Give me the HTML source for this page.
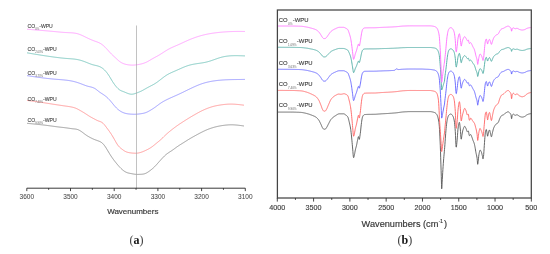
<!DOCTYPE html>
<html><head><meta charset="utf-8"><style>
html,body{margin:0;padding:0;background:#fff;}
body{width:550px;height:254px;overflow:hidden;}
svg{display:block;}
text{font-family:"Liberation Sans",Arial,sans-serif;fill:#333;}
.ta{font-size:6.5px;text-anchor:middle;fill:#4a4a4a;stroke:#4a4a4a;stroke-width:0.05px;}
.tb{font-size:7.2px;text-anchor:middle;fill:#3c3c3c;stroke:#3c3c3c;stroke-width:0.14px;}
.wa{font-size:8px;text-anchor:middle;fill:#3a3a3a;stroke:#3a3a3a;stroke-width:0.18px;}
.wb{font-size:9.2px;text-anchor:middle;fill:#333;stroke:#333;stroke-width:0.15px;}
.sup{font-size:4.6px;}
.cap{font-family:"Liberation Serif",serif;font-size:12px;text-anchor:middle;fill:#3c3c3c;}
.la{font-size:5.1px;fill:#444;stroke:#444;stroke-width:0.1px;}
.sa{font-size:2.8px;fill:#666;stroke:none;}
.lb{font-size:5.9px;fill:#3a3a3a;stroke:#3a3a3a;stroke-width:0.12px;}
.sb{font-size:3px;fill:#666;stroke:none;}
</style></head><body>
<svg width="550" height="254" viewBox="0 0 550 254">
<polyline points="27.00,123.30 27.50,123.35 28.00,123.40 28.50,123.45 29.00,123.50 29.50,123.55 30.00,123.60 30.50,123.64 31.00,123.69 31.50,123.74 32.00,123.79 32.50,123.84 33.00,123.89 33.50,123.94 34.00,123.99 34.50,124.04 35.00,124.09 35.50,124.14 36.00,124.19 36.50,124.24 37.00,124.30 37.50,124.35 38.00,124.40 38.50,124.45 39.00,124.51 39.50,124.56 40.00,124.61 40.50,124.67 41.00,124.72 41.50,124.78 42.00,124.83 42.50,124.89 43.00,124.95 43.50,125.01 44.00,125.06 44.50,125.12 45.00,125.18 45.50,125.24 46.00,125.31 46.50,125.37 47.00,125.43 47.50,125.50 48.00,125.56 48.50,125.63 49.00,125.69 49.50,125.76 50.00,125.83 50.50,125.90 51.00,125.97 51.50,126.03 52.00,126.10 52.50,126.17 53.00,126.24 53.50,126.31 54.00,126.38 54.50,126.45 55.00,126.51 55.50,126.58 56.00,126.65 56.50,126.71 57.00,126.78 57.50,126.84 58.00,126.90 58.50,126.96 59.00,127.02 59.50,127.08 60.00,127.13 60.50,127.19 61.00,127.25 61.50,127.30 62.00,127.36 62.50,127.42 63.00,127.47 63.50,127.53 64.00,127.59 64.50,127.65 65.00,127.71 65.50,127.77 66.00,127.84 66.50,127.90 67.00,127.97 67.50,128.04 68.00,128.12 68.50,128.19 69.00,128.27 69.50,128.34 70.00,128.41 70.50,128.49 71.00,128.56 71.50,128.62 72.00,128.69 72.50,128.75 73.00,128.80 73.50,128.85 74.00,128.89 74.50,128.94 75.00,129.00 75.50,129.06 76.00,129.14 76.50,129.24 77.00,129.35 77.50,129.50 78.00,129.67 78.50,129.88 79.00,130.12 79.50,130.38 80.00,130.66 80.50,130.97 81.00,131.30 81.50,131.64 82.00,132.00 82.50,132.37 83.00,132.75 83.50,133.13 84.00,133.52 84.50,133.90 85.00,134.28 85.50,134.64 86.00,135.00 86.50,135.34 87.00,135.67 87.50,135.98 88.00,136.28 88.50,136.57 89.00,136.86 89.50,137.13 90.00,137.40 90.50,137.66 91.00,137.92 91.50,138.18 92.00,138.43 92.50,138.67 93.00,138.90 93.50,139.12 94.00,139.34 94.50,139.54 95.00,139.73 95.50,139.92 96.00,140.10 96.50,140.28 97.00,140.46 97.50,140.63 98.00,140.81 98.50,141.00 99.00,141.19 99.50,141.40 100.00,141.63 100.50,141.89 101.00,142.18 101.50,142.51 102.00,142.88 102.50,143.31 103.00,143.80 103.50,144.35 104.00,144.95 104.50,145.61 105.00,146.30 105.50,147.04 106.00,147.81 106.50,148.61 107.00,149.44 107.50,150.28 108.00,151.12 108.50,151.96 109.00,152.80 109.50,153.62 110.00,154.43 110.50,155.22 111.00,155.99 111.50,156.74 112.00,157.48 112.50,158.20 113.00,158.90 113.50,159.58 114.00,160.25 114.50,160.91 115.00,161.55 115.50,162.18 116.00,162.80 116.50,163.41 117.00,164.02 117.50,164.61 118.00,165.20 118.50,165.77 119.00,166.33 119.50,166.88 120.00,167.41 120.50,167.93 121.00,168.43 121.50,168.91 122.00,169.38 122.50,169.82 123.00,170.23 123.50,170.62 124.00,170.99 124.50,171.33 125.00,171.64 125.50,171.92 126.00,172.17 126.50,172.40 127.00,172.60 127.50,172.77 128.00,172.92 128.50,173.05 129.00,173.17 129.50,173.27 130.00,173.37 130.50,173.46 131.00,173.56 131.50,173.65 132.00,173.75 132.50,173.85 133.00,173.94 133.50,174.03 134.00,174.11 134.50,174.19 135.00,174.26 135.50,174.32 136.00,174.36 136.50,174.40 137.00,174.41 137.50,174.42 138.00,174.41 138.50,174.40 139.00,174.38 139.50,174.35 140.00,174.33 140.50,174.30 141.00,174.27 141.50,174.25 142.00,174.21 142.50,174.17 143.00,174.11 143.50,174.03 144.00,173.93 144.50,173.79 145.00,173.63 145.50,173.43 146.00,173.21 146.50,172.95 147.00,172.67 147.50,172.37 148.00,172.05 148.50,171.71 149.00,171.36 149.50,171.00 150.00,170.63 150.50,170.26 151.00,169.88 151.50,169.48 152.00,169.07 152.50,168.65 153.00,168.22 153.50,167.76 154.00,167.29 154.50,166.80 155.00,166.29 155.50,165.77 156.00,165.23 156.50,164.68 157.00,164.13 157.50,163.56 158.00,163.00 158.50,162.43 159.00,161.87 159.50,161.31 160.00,160.75 160.50,160.19 161.00,159.63 161.50,159.08 162.00,158.53 162.50,157.99 163.00,157.46 163.50,156.95 164.00,156.44 164.50,155.95 165.00,155.48 165.50,155.03 166.00,154.60 166.50,154.19 167.00,153.81 167.50,153.44 168.00,153.09 168.50,152.75 169.00,152.42 169.50,152.09 170.00,151.77 170.50,151.45 171.00,151.13 171.50,150.80 172.00,150.46 172.50,150.12 173.00,149.77 173.50,149.41 174.00,149.04 174.50,148.68 175.00,148.31 175.50,147.94 176.00,147.57 176.50,147.21 177.00,146.85 177.50,146.50 178.00,146.16 178.50,145.82 179.00,145.49 179.50,145.16 180.00,144.84 180.50,144.53 181.00,144.21 181.50,143.90 182.00,143.59 182.50,143.28 183.00,142.97 183.50,142.66 184.00,142.35 184.50,142.03 185.00,141.72 185.50,141.40 186.00,141.08 186.50,140.76 187.00,140.45 187.50,140.13 188.00,139.82 188.50,139.51 189.00,139.20 189.50,138.90 190.00,138.60 190.50,138.31 191.00,138.01 191.50,137.73 192.00,137.44 192.50,137.16 193.00,136.88 193.50,136.60 194.00,136.32 194.50,136.05 195.00,135.77 195.50,135.50 196.00,135.23 196.50,134.95 197.00,134.68 197.50,134.41 198.00,134.14 198.50,133.87 199.00,133.60 199.50,133.34 200.00,133.08 200.50,132.81 201.00,132.56 201.50,132.30 202.00,132.05 202.50,131.80 203.00,131.55 203.50,131.31 204.00,131.07 204.50,130.83 205.00,130.60 205.50,130.37 206.00,130.15 206.50,129.94 207.00,129.72 207.50,129.52 208.00,129.32 208.50,129.12 209.00,128.93 209.50,128.75 210.00,128.57 210.50,128.40 211.00,128.23 211.50,128.07 212.00,127.91 212.50,127.75 213.00,127.60 213.50,127.45 214.00,127.31 214.50,127.17 215.00,127.04 215.50,126.91 216.00,126.79 216.50,126.66 217.00,126.55 217.50,126.43 218.00,126.33 218.50,126.22 219.00,126.12 219.50,126.02 220.00,125.93 220.50,125.84 221.00,125.76 221.50,125.67 222.00,125.60 222.50,125.52 223.00,125.45 223.50,125.38 224.00,125.32 224.50,125.26 225.00,125.20 225.50,125.14 226.00,125.09 226.50,125.04 227.00,125.00 227.50,124.96 228.00,124.92 228.50,124.89 229.00,124.86 229.50,124.84 230.00,124.82 230.50,124.81 231.00,124.80 231.50,124.80 232.00,124.80 232.50,124.81 233.00,124.83 233.50,124.85 234.00,124.87 234.50,124.90 235.00,124.93 235.50,124.97 236.00,125.01 236.50,125.05 237.00,125.10 237.50,125.15 238.00,125.20 238.50,125.26 239.00,125.32 239.50,125.38 240.00,125.44 240.50,125.51 241.00,125.58 241.50,125.64 242.00,125.71 242.50,125.78 243.00,125.86 243.50,125.93 244.00,126.00" fill="none" stroke="#9c9c9c" stroke-width="1.0" stroke-linejoin="round"/>
<polyline points="27.00,100.40 27.50,100.46 28.00,100.51 28.50,100.57 29.00,100.63 29.50,100.69 30.00,100.75 30.50,100.81 31.00,100.88 31.50,100.94 32.00,101.01 32.50,101.07 33.00,101.14 33.50,101.21 34.00,101.27 34.50,101.34 35.00,101.41 35.50,101.48 36.00,101.55 36.50,101.63 37.00,101.70 37.50,101.77 38.00,101.84 38.50,101.92 39.00,101.99 39.50,102.07 40.00,102.14 40.50,102.22 41.00,102.30 41.50,102.37 42.00,102.45 42.50,102.53 43.00,102.61 43.50,102.68 44.00,102.76 44.50,102.84 45.00,102.92 45.50,103.00 46.00,103.08 46.50,103.16 47.00,103.24 47.50,103.32 48.00,103.40 48.50,103.48 49.00,103.56 49.50,103.63 50.00,103.71 50.50,103.79 51.00,103.87 51.50,103.95 52.00,104.03 52.50,104.11 53.00,104.19 53.50,104.27 54.00,104.34 54.50,104.42 55.00,104.50 55.50,104.58 56.00,104.65 56.50,104.73 57.00,104.81 57.50,104.88 58.00,104.96 58.50,105.03 59.00,105.11 59.50,105.18 60.00,105.26 60.50,105.33 61.00,105.40 61.50,105.48 62.00,105.55 62.50,105.62 63.00,105.70 63.50,105.77 64.00,105.84 64.50,105.91 65.00,105.99 65.50,106.06 66.00,106.13 66.50,106.20 67.00,106.27 67.50,106.34 68.00,106.41 68.50,106.49 69.00,106.56 69.50,106.64 70.00,106.72 70.50,106.81 71.00,106.90 71.50,107.00 72.00,107.11 72.50,107.22 73.00,107.35 73.50,107.48 74.00,107.63 74.50,107.78 75.00,107.96 75.50,108.14 76.00,108.34 76.50,108.56 77.00,108.79 77.50,109.03 78.00,109.29 78.50,109.56 79.00,109.84 79.50,110.12 80.00,110.40 80.50,110.68 81.00,110.97 81.50,111.26 82.00,111.55 82.50,111.84 83.00,112.13 83.50,112.43 84.00,112.74 84.50,113.05 85.00,113.36 85.50,113.69 86.00,114.01 86.50,114.35 87.00,114.68 87.50,115.01 88.00,115.34 88.50,115.66 89.00,115.98 89.50,116.30 90.00,116.60 90.50,116.89 91.00,117.18 91.50,117.45 92.00,117.73 92.50,117.99 93.00,118.26 93.50,118.52 94.00,118.79 94.50,119.05 95.00,119.32 95.50,119.59 96.00,119.86 96.50,120.12 97.00,120.36 97.50,120.59 98.00,120.80 98.50,120.99 99.00,121.16 99.50,121.33 100.00,121.51 100.50,121.70 101.00,121.92 101.50,122.18 102.00,122.48 102.50,122.84 103.00,123.26 103.50,123.75 104.00,124.30 104.50,124.89 105.00,125.51 105.50,126.16 106.00,126.83 106.50,127.50 107.00,128.17 107.50,128.84 108.00,129.50 108.50,130.18 109.00,130.86 109.50,131.56 110.00,132.27 110.50,133.00 111.00,133.75 111.50,134.53 112.00,135.33 112.50,136.15 113.00,136.99 113.50,137.84 114.00,138.72 114.50,139.60 115.00,140.49 115.50,141.39 116.00,142.27 116.50,143.12 117.00,143.93 117.50,144.70 118.00,145.40 118.50,146.03 119.00,146.59 119.50,147.10 120.00,147.57 120.50,148.00 121.00,148.41 121.50,148.80 122.00,149.19 122.50,149.57 123.00,149.94 123.50,150.30 124.00,150.64 124.50,150.96 125.00,151.25 125.50,151.51 126.00,151.74 126.50,151.94 127.00,152.12 127.50,152.27 128.00,152.41 128.50,152.53 129.00,152.63 129.50,152.72 130.00,152.80 130.50,152.87 131.00,152.93 131.50,152.99 132.00,153.04 132.50,153.08 133.00,153.12 133.50,153.15 134.00,153.18 134.50,153.20 135.00,153.22 135.50,153.23 136.00,153.22 136.50,153.21 137.00,153.17 137.50,153.12 138.00,153.04 138.50,152.96 139.00,152.85 139.50,152.73 140.00,152.60 140.50,152.46 141.00,152.30 141.50,152.13 142.00,151.96 142.50,151.77 143.00,151.57 143.50,151.37 144.00,151.16 144.50,150.94 145.00,150.71 145.50,150.48 146.00,150.24 146.50,150.00 147.00,149.76 147.50,149.51 148.00,149.25 148.50,148.98 149.00,148.70 149.50,148.42 150.00,148.12 150.50,147.81 151.00,147.49 151.50,147.15 152.00,146.80 152.50,146.43 153.00,146.05 153.50,145.65 154.00,145.25 154.50,144.84 155.00,144.43 155.50,144.01 156.00,143.60 156.50,143.19 157.00,142.78 157.50,142.37 158.00,141.97 158.50,141.55 159.00,141.14 159.50,140.72 160.00,140.29 160.50,139.85 161.00,139.40 161.50,138.94 162.00,138.47 162.50,137.99 163.00,137.50 163.50,137.01 164.00,136.52 164.50,136.04 165.00,135.55 165.50,135.07 166.00,134.60 166.50,134.14 167.00,133.69 167.50,133.24 168.00,132.81 168.50,132.38 169.00,131.96 169.50,131.54 170.00,131.14 170.50,130.73 171.00,130.33 171.50,129.94 172.00,129.54 172.50,129.15 173.00,128.77 173.50,128.38 174.00,128.00 174.50,127.62 175.00,127.25 175.50,126.88 176.00,126.51 176.50,126.15 177.00,125.79 177.50,125.44 178.00,125.09 178.50,124.75 179.00,124.41 179.50,124.07 180.00,123.74 180.50,123.41 181.00,123.08 181.50,122.75 182.00,122.43 182.50,122.11 183.00,121.78 183.50,121.46 184.00,121.14 184.50,120.82 185.00,120.51 185.50,120.19 186.00,119.87 186.50,119.56 187.00,119.24 187.50,118.93 188.00,118.62 188.50,118.31 189.00,118.00 189.50,117.70 190.00,117.40 190.50,117.10 191.00,116.80 191.50,116.51 192.00,116.21 192.50,115.92 193.00,115.63 193.50,115.34 194.00,115.06 194.50,114.77 195.00,114.48 195.50,114.20 196.00,113.92 196.50,113.63 197.00,113.35 197.50,113.07 198.00,112.80 198.50,112.52 199.00,112.25 199.50,111.98 200.00,111.72 200.50,111.46 201.00,111.20 201.50,110.95 202.00,110.70 202.50,110.46 203.00,110.23 203.50,110.00 204.00,109.77 204.50,109.55 205.00,109.34 205.50,109.12 206.00,108.92 206.50,108.72 207.00,108.52 207.50,108.32 208.00,108.13 208.50,107.95 209.00,107.77 209.50,107.59 210.00,107.42 210.50,107.25 211.00,107.09 211.50,106.93 212.00,106.78 212.50,106.64 213.00,106.50 213.50,106.37 214.00,106.24 214.50,106.12 215.00,106.00 215.50,105.89 216.00,105.78 216.50,105.68 217.00,105.58 217.50,105.48 218.00,105.39 218.50,105.30 219.00,105.22 219.50,105.13 220.00,105.05 220.50,104.97 221.00,104.90 221.50,104.82 222.00,104.75 222.50,104.69 223.00,104.62 223.50,104.56 224.00,104.50 224.50,104.45 225.00,104.40 225.50,104.35 226.00,104.31 226.50,104.27 227.00,104.23 227.50,104.20 228.00,104.18 228.50,104.15 229.00,104.13 229.50,104.12 230.00,104.11 230.50,104.10 231.00,104.10 231.50,104.10 232.00,104.11 232.50,104.12 233.00,104.14 233.50,104.16 234.00,104.18 234.50,104.21 235.00,104.24 235.50,104.28 236.00,104.32 236.50,104.36 237.00,104.40 237.50,104.45 238.00,104.49 238.50,104.54 239.00,104.60 239.50,104.65 240.00,104.71 240.50,104.77 241.00,104.83 241.50,104.89 242.00,104.95 242.50,105.01 243.00,105.07 243.50,105.14 244.00,105.20" fill="none" stroke="#ff9c9c" stroke-width="1.0" stroke-linejoin="round"/>
<polyline points="27.00,75.60 27.50,75.68 28.00,75.76 28.50,75.84 29.00,75.92 29.50,75.99 30.00,76.07 30.50,76.15 31.00,76.23 31.50,76.30 32.00,76.38 32.50,76.46 33.00,76.53 33.50,76.61 34.00,76.68 34.50,76.75 35.00,76.83 35.50,76.90 36.00,76.97 36.50,77.04 37.00,77.12 37.50,77.19 38.00,77.26 38.50,77.33 39.00,77.40 39.50,77.46 40.00,77.53 40.50,77.60 41.00,77.67 41.50,77.73 42.00,77.80 42.50,77.86 43.00,77.92 43.50,77.99 44.00,78.05 44.50,78.11 45.00,78.17 45.50,78.23 46.00,78.29 46.50,78.35 47.00,78.41 47.50,78.46 48.00,78.52 48.50,78.57 49.00,78.63 49.50,78.68 50.00,78.73 50.50,78.78 51.00,78.83 51.50,78.88 52.00,78.93 52.50,78.98 53.00,79.03 53.50,79.07 54.00,79.11 54.50,79.16 55.00,79.20 55.50,79.24 56.00,79.28 56.50,79.32 57.00,79.36 57.50,79.40 58.00,79.44 58.50,79.47 59.00,79.51 59.50,79.55 60.00,79.59 60.50,79.63 61.00,79.67 61.50,79.71 62.00,79.75 62.50,79.80 63.00,79.84 63.50,79.89 64.00,79.94 64.50,79.99 65.00,80.04 65.50,80.10 66.00,80.15 66.50,80.21 67.00,80.27 67.50,80.34 68.00,80.41 68.50,80.48 69.00,80.55 69.50,80.63 70.00,80.72 70.50,80.80 71.00,80.89 71.50,80.99 72.00,81.09 72.50,81.20 73.00,81.31 73.50,81.42 74.00,81.54 74.50,81.67 75.00,81.80 75.50,81.94 76.00,82.08 76.50,82.23 77.00,82.39 77.50,82.55 78.00,82.71 78.50,82.88 79.00,83.05 79.50,83.23 80.00,83.41 80.50,83.60 81.00,83.79 81.50,83.98 82.00,84.17 82.50,84.37 83.00,84.56 83.50,84.76 84.00,84.95 84.50,85.14 85.00,85.33 85.50,85.51 86.00,85.68 86.50,85.85 87.00,86.01 87.50,86.16 88.00,86.30 88.50,86.43 89.00,86.55 89.50,86.66 90.00,86.78 90.50,86.89 91.00,87.02 91.50,87.15 92.00,87.29 92.50,87.45 93.00,87.63 93.50,87.83 94.00,88.05 94.50,88.31 95.00,88.60 95.50,88.92 96.00,89.28 96.50,89.66 97.00,90.05 97.50,90.45 98.00,90.86 98.50,91.26 99.00,91.65 99.50,92.02 100.00,92.38 100.50,92.72 101.00,93.05 101.50,93.37 102.00,93.69 102.50,94.01 103.00,94.33 103.50,94.66 104.00,95.00 104.50,95.35 105.00,95.72 105.50,96.11 106.00,96.51 106.50,96.92 107.00,97.36 107.50,97.82 108.00,98.30 108.50,98.80 109.00,99.32 109.50,99.86 110.00,100.42 110.50,101.00 111.00,101.59 111.50,102.19 112.00,102.80 112.50,103.41 113.00,104.03 113.50,104.64 114.00,105.25 114.50,105.85 115.00,106.42 115.50,106.98 116.00,107.52 116.50,108.03 117.00,108.51 117.50,108.97 118.00,109.40 118.50,109.81 119.00,110.20 119.50,110.57 120.00,110.91 120.50,111.23 121.00,111.53 121.50,111.81 122.00,112.07 122.50,112.31 123.00,112.53 123.50,112.73 124.00,112.92 124.50,113.08 125.00,113.23 125.50,113.37 126.00,113.49 126.50,113.60 127.00,113.70 127.50,113.79 128.00,113.86 128.50,113.93 129.00,113.98 129.50,114.03 130.00,114.08 130.50,114.11 131.00,114.14 131.50,114.17 132.00,114.19 132.50,114.21 133.00,114.23 133.50,114.24 134.00,114.25 134.50,114.25 135.00,114.25 135.50,114.24 136.00,114.23 136.50,114.21 137.00,114.17 137.50,114.14 138.00,114.09 138.50,114.04 139.00,113.98 139.50,113.92 140.00,113.85 140.50,113.78 141.00,113.70 141.50,113.62 142.00,113.54 142.50,113.45 143.00,113.35 143.50,113.25 144.00,113.13 144.50,113.00 145.00,112.86 145.50,112.70 146.00,112.52 146.50,112.32 147.00,112.10 147.50,111.86 148.00,111.61 148.50,111.35 149.00,111.07 149.50,110.79 150.00,110.50 150.50,110.21 151.00,109.91 151.50,109.60 152.00,109.30 152.50,108.98 153.00,108.66 153.50,108.33 154.00,108.00 154.50,107.65 155.00,107.30 155.50,106.94 156.00,106.57 156.50,106.20 157.00,105.82 157.50,105.44 158.00,105.06 158.50,104.69 159.00,104.32 159.50,103.95 160.00,103.60 160.50,103.26 161.00,102.92 161.50,102.60 162.00,102.28 162.50,101.98 163.00,101.68 163.50,101.39 164.00,101.11 164.50,100.84 165.00,100.57 165.50,100.31 166.00,100.05 166.50,99.80 167.00,99.55 167.50,99.31 168.00,99.07 168.50,98.83 169.00,98.60 169.50,98.37 170.00,98.14 170.50,97.91 171.00,97.69 171.50,97.46 172.00,97.24 172.50,97.02 173.00,96.80 173.50,96.58 174.00,96.36 174.50,96.14 175.00,95.92 175.50,95.69 176.00,95.47 176.50,95.25 177.00,95.03 177.50,94.80 178.00,94.57 178.50,94.35 179.00,94.12 179.50,93.88 180.00,93.65 180.50,93.41 181.00,93.18 181.50,92.94 182.00,92.70 182.50,92.46 183.00,92.21 183.50,91.97 184.00,91.73 184.50,91.48 185.00,91.24 185.50,90.99 186.00,90.75 186.50,90.50 187.00,90.26 187.50,90.01 188.00,89.77 188.50,89.53 189.00,89.28 189.50,89.04 190.00,88.80 190.50,88.56 191.00,88.32 191.50,88.08 192.00,87.85 192.50,87.61 193.00,87.38 193.50,87.15 194.00,86.92 194.50,86.69 195.00,86.47 195.50,86.25 196.00,86.03 196.50,85.82 197.00,85.61 197.50,85.40 198.00,85.19 198.50,84.99 199.00,84.79 199.50,84.60 200.00,84.41 200.50,84.23 201.00,84.05 201.50,83.87 202.00,83.70 202.50,83.53 203.00,83.37 203.50,83.22 204.00,83.07 204.50,82.92 205.00,82.78 205.50,82.64 206.00,82.51 206.50,82.38 207.00,82.26 207.50,82.13 208.00,82.02 208.50,81.91 209.00,81.80 209.50,81.69 210.00,81.59 210.50,81.49 211.00,81.40 211.50,81.31 212.00,81.22 212.50,81.14 213.00,81.06 213.50,80.98 214.00,80.90 214.50,80.83 215.00,80.76 215.50,80.69 216.00,80.63 216.50,80.57 217.00,80.51 217.50,80.45 218.00,80.40 218.50,80.34 219.00,80.29 219.50,80.25 220.00,80.20 220.50,80.16 221.00,80.12 221.50,80.08 222.00,80.04 222.50,80.00 223.00,79.97 223.50,79.94 224.00,79.91 224.50,79.88 225.00,79.85 225.50,79.82 226.00,79.80 226.50,79.78 227.00,79.76 227.50,79.74 228.00,79.72 228.50,79.70 229.00,79.68 229.50,79.67 230.00,79.65 230.50,79.64 231.00,79.62 231.50,79.61 232.00,79.60 232.50,79.59 233.00,79.58 233.50,79.57 234.00,79.56 234.50,79.55 235.00,79.55 235.50,79.54 236.00,79.53 236.50,79.52 237.00,79.52 237.50,79.51 238.00,79.50 238.50,79.50 239.00,79.49 239.50,79.49 240.00,79.48 240.50,79.47 241.00,79.47 241.50,79.46 242.00,79.45 242.50,79.45 243.00,79.44 243.50,79.43 244.00,79.42 244.50,79.41 245.00,79.40" fill="none" stroke="#9c9cff" stroke-width="1.0" stroke-linejoin="round"/>
<polyline points="27.00,52.80 27.50,52.89 28.00,52.98 28.50,53.06 29.00,53.15 29.50,53.24 30.00,53.33 30.50,53.41 31.00,53.50 31.50,53.58 32.00,53.67 32.50,53.76 33.00,53.84 33.50,53.93 34.00,54.01 34.50,54.10 35.00,54.18 35.50,54.26 36.00,54.35 36.50,54.43 37.00,54.51 37.50,54.59 38.00,54.68 38.50,54.76 39.00,54.84 39.50,54.92 40.00,55.00 40.50,55.08 41.00,55.16 41.50,55.24 42.00,55.32 42.50,55.40 43.00,55.47 43.50,55.55 44.00,55.63 44.50,55.71 45.00,55.78 45.50,55.86 46.00,55.93 46.50,56.01 47.00,56.08 47.50,56.15 48.00,56.23 48.50,56.30 49.00,56.37 49.50,56.45 50.00,56.52 50.50,56.59 51.00,56.66 51.50,56.73 52.00,56.80 52.50,56.87 53.00,56.93 53.50,57.00 54.00,57.07 54.50,57.13 55.00,57.20 55.50,57.27 56.00,57.33 56.50,57.39 57.00,57.46 57.50,57.52 58.00,57.58 58.50,57.64 59.00,57.70 59.50,57.76 60.00,57.82 60.50,57.88 61.00,57.93 61.50,57.99 62.00,58.04 62.50,58.09 63.00,58.14 63.50,58.19 64.00,58.24 64.50,58.29 65.00,58.33 65.50,58.38 66.00,58.42 66.50,58.46 67.00,58.50 67.50,58.54 68.00,58.57 68.50,58.61 69.00,58.64 69.50,58.68 70.00,58.72 70.50,58.75 71.00,58.79 71.50,58.83 72.00,58.87 72.50,58.91 73.00,58.96 73.50,59.01 74.00,59.06 74.50,59.12 75.00,59.19 75.50,59.25 76.00,59.33 76.50,59.40 77.00,59.49 77.50,59.58 78.00,59.68 78.50,59.79 79.00,59.90 79.50,60.02 80.00,60.15 80.50,60.29 81.00,60.44 81.50,60.59 82.00,60.75 82.50,60.91 83.00,61.08 83.50,61.26 84.00,61.44 84.50,61.62 85.00,61.81 85.50,62.00 86.00,62.20 86.50,62.40 87.00,62.60 87.50,62.80 88.00,63.01 88.50,63.21 89.00,63.41 89.50,63.60 90.00,63.80 90.50,63.98 91.00,64.16 91.50,64.34 92.00,64.50 92.50,64.66 93.00,64.80 93.50,64.93 94.00,65.06 94.50,65.18 95.00,65.29 95.50,65.41 96.00,65.52 96.50,65.64 97.00,65.77 97.50,65.90 98.00,66.05 98.50,66.21 99.00,66.38 99.50,66.58 100.00,66.80 100.50,67.04 101.00,67.31 101.50,67.61 102.00,67.93 102.50,68.28 103.00,68.66 103.50,69.07 104.00,69.52 104.50,69.99 105.00,70.50 105.50,71.04 106.00,71.62 106.50,72.23 107.00,72.87 107.50,73.54 108.00,74.24 108.50,74.97 109.00,75.73 109.50,76.52 110.00,77.33 110.50,78.16 111.00,79.01 111.50,79.85 112.00,80.69 112.50,81.50 113.00,82.28 113.50,83.03 114.00,83.75 114.50,84.44 115.00,85.11 115.50,85.75 116.00,86.37 116.50,86.96 117.00,87.52 117.50,88.05 118.00,88.55 118.50,89.01 119.00,89.43 119.50,89.80 120.00,90.13 120.50,90.41 121.00,90.66 121.50,90.89 122.00,91.09 122.50,91.28 123.00,91.46 123.50,91.65 124.00,91.84 124.50,92.04 125.00,92.25 125.50,92.47 126.00,92.69 126.50,92.90 127.00,93.11 127.50,93.31 128.00,93.50 128.50,93.67 129.00,93.82 129.50,93.95 130.00,94.06 130.50,94.14 131.00,94.19 131.50,94.22 132.00,94.21 132.50,94.17 133.00,94.10 133.50,94.00 134.00,93.88 134.50,93.74 135.00,93.58 135.50,93.40 136.00,93.22 136.50,93.04 137.00,92.85 137.50,92.66 138.00,92.47 138.50,92.28 139.00,92.08 139.50,91.87 140.00,91.66 140.50,91.43 141.00,91.20 141.50,90.96 142.00,90.70 142.50,90.44 143.00,90.16 143.50,89.89 144.00,89.61 144.50,89.32 145.00,89.04 145.50,88.75 146.00,88.47 146.50,88.19 147.00,87.91 147.50,87.64 148.00,87.37 148.50,87.10 149.00,86.84 149.50,86.58 150.00,86.32 150.50,86.06 151.00,85.80 151.50,85.54 152.00,85.28 152.50,85.02 153.00,84.75 153.50,84.48 154.00,84.20 154.50,83.90 155.00,83.60 155.50,83.28 156.00,82.95 156.50,82.61 157.00,82.26 157.50,81.90 158.00,81.53 158.50,81.15 159.00,80.77 159.50,80.39 160.00,80.00 160.50,79.61 161.00,79.22 161.50,78.83 162.00,78.44 162.50,78.05 163.00,77.67 163.50,77.29 164.00,76.92 164.50,76.55 165.00,76.20 165.50,75.85 166.00,75.51 166.50,75.19 167.00,74.88 167.50,74.58 168.00,74.29 168.50,74.02 169.00,73.76 169.50,73.50 170.00,73.26 170.50,73.02 171.00,72.78 171.50,72.56 172.00,72.33 172.50,72.11 173.00,71.89 173.50,71.67 174.00,71.46 174.50,71.24 175.00,71.02 175.50,70.80 176.00,70.58 176.50,70.36 177.00,70.13 177.50,69.91 178.00,69.69 178.50,69.47 179.00,69.24 179.50,69.02 180.00,68.80 180.50,68.58 181.00,68.36 181.50,68.14 182.00,67.92 182.50,67.70 183.00,67.49 183.50,67.28 184.00,67.07 184.50,66.87 185.00,66.67 185.50,66.48 186.00,66.29 186.50,66.11 187.00,65.93 187.50,65.76 188.00,65.60 188.50,65.44 189.00,65.30 189.50,65.15 190.00,65.02 190.50,64.89 191.00,64.77 191.50,64.65 192.00,64.54 192.50,64.43 193.00,64.33 193.50,64.23 194.00,64.14 194.50,64.05 195.00,63.96 195.50,63.88 196.00,63.80 196.50,63.72 197.00,63.65 197.50,63.57 198.00,63.50 198.50,63.43 199.00,63.36 199.50,63.29 200.00,63.22 200.50,63.14 201.00,63.07 201.50,62.99 202.00,62.92 202.50,62.84 203.00,62.75 203.50,62.66 204.00,62.57 204.50,62.48 205.00,62.37 205.50,62.27 206.00,62.15 206.50,62.04 207.00,61.91 207.50,61.78 208.00,61.65 208.50,61.50 209.00,61.36 209.50,61.21 210.00,61.05 210.50,60.90 211.00,60.73 211.50,60.57 212.00,60.40 212.50,60.23 213.00,60.05 213.50,59.87 214.00,59.69 214.50,59.52 215.00,59.34 215.50,59.16 216.00,58.98 216.50,58.80 217.00,58.63 217.50,58.45 218.00,58.28 218.50,58.12 219.00,57.95 219.50,57.80 220.00,57.64 220.50,57.50 221.00,57.35 221.50,57.22 222.00,57.09 222.50,56.97 223.00,56.86 223.50,56.75 224.00,56.65 224.50,56.55 225.00,56.46 225.50,56.38 226.00,56.30 226.50,56.23 227.00,56.16 227.50,56.10 228.00,56.04 228.50,55.99 229.00,55.94 229.50,55.89 230.00,55.85 230.50,55.82 231.00,55.79 231.50,55.76 232.00,55.74 232.50,55.72 233.00,55.70 233.50,55.69 234.00,55.68 234.50,55.67 235.00,55.66 235.50,55.66 236.00,55.66 236.50,55.66 237.00,55.67 237.50,55.67 238.00,55.68 238.50,55.69 239.00,55.70 239.50,55.72 240.00,55.73 240.50,55.75 241.00,55.76 241.50,55.78 242.00,55.80 242.50,55.81 243.00,55.83 243.50,55.85 244.00,55.87 244.50,55.88 245.00,55.90" fill="none" stroke="#80cac2" stroke-width="1.0" stroke-linejoin="round"/>
<polyline points="27.00,29.20 27.50,29.25 28.00,29.29 28.50,29.33 29.00,29.38 29.50,29.42 30.00,29.47 30.50,29.51 31.00,29.55 31.50,29.59 32.00,29.64 32.50,29.68 33.00,29.72 33.50,29.76 34.00,29.81 34.50,29.85 35.00,29.89 35.50,29.93 36.00,29.97 36.50,30.01 37.00,30.05 37.50,30.10 38.00,30.14 38.50,30.18 39.00,30.22 39.50,30.26 40.00,30.30 40.50,30.34 41.00,30.38 41.50,30.42 42.00,30.46 42.50,30.51 43.00,30.55 43.50,30.59 44.00,30.63 44.50,30.67 45.00,30.71 45.50,30.75 46.00,30.80 46.50,30.84 47.00,30.88 47.50,30.92 48.00,30.97 48.50,31.01 49.00,31.05 49.50,31.10 50.00,31.14 50.50,31.19 51.00,31.23 51.50,31.28 52.00,31.32 52.50,31.37 53.00,31.41 53.50,31.46 54.00,31.51 54.50,31.55 55.00,31.60 55.50,31.65 56.00,31.70 56.50,31.75 57.00,31.79 57.50,31.84 58.00,31.89 58.50,31.94 59.00,31.99 59.50,32.03 60.00,32.08 60.50,32.13 61.00,32.17 61.50,32.22 62.00,32.26 62.50,32.30 63.00,32.34 63.50,32.38 64.00,32.42 64.50,32.45 65.00,32.49 65.50,32.52 66.00,32.55 66.50,32.57 67.00,32.60 67.50,32.62 68.00,32.64 68.50,32.66 69.00,32.68 69.50,32.71 70.00,32.73 70.50,32.75 71.00,32.78 71.50,32.81 72.00,32.84 72.50,32.88 73.00,32.93 73.50,32.98 74.00,33.04 74.50,33.11 75.00,33.19 75.50,33.27 76.00,33.37 76.50,33.48 77.00,33.60 77.50,33.73 78.00,33.88 78.50,34.03 79.00,34.20 79.50,34.38 80.00,34.57 80.50,34.76 81.00,34.97 81.50,35.18 82.00,35.40 82.50,35.63 83.00,35.86 83.50,36.10 84.00,36.34 84.50,36.58 85.00,36.83 85.50,37.08 86.00,37.33 86.50,37.57 87.00,37.82 87.50,38.06 88.00,38.30 88.50,38.54 89.00,38.77 89.50,38.99 90.00,39.21 90.50,39.43 91.00,39.64 91.50,39.85 92.00,40.06 92.50,40.26 93.00,40.46 93.50,40.65 94.00,40.84 94.50,41.02 95.00,41.20 95.50,41.38 96.00,41.55 96.50,41.73 97.00,41.91 97.50,42.10 98.00,42.29 98.50,42.50 99.00,42.73 99.50,42.97 100.00,43.23 100.50,43.52 101.00,43.83 101.50,44.16 102.00,44.52 102.50,44.90 103.00,45.30 103.50,45.72 104.00,46.17 104.50,46.63 105.00,47.12 105.50,47.62 106.00,48.13 106.50,48.66 107.00,49.20 107.50,49.75 108.00,50.31 108.50,50.87 109.00,51.43 109.50,51.99 110.00,52.54 110.50,53.08 111.00,53.60 111.50,54.10 112.00,54.59 112.50,55.07 113.00,55.54 113.50,55.99 114.00,56.45 114.50,56.90 115.00,57.36 115.50,57.81 116.00,58.28 116.50,58.75 117.00,59.22 117.50,59.69 118.00,60.15 118.50,60.58 119.00,61.00 119.50,61.39 120.00,61.75 120.50,62.09 121.00,62.40 121.50,62.69 122.00,62.96 122.50,63.20 123.00,63.42 123.50,63.63 124.00,63.82 124.50,63.98 125.00,64.14 125.50,64.28 126.00,64.40 126.50,64.51 127.00,64.61 127.50,64.70 128.00,64.78 128.50,64.85 129.00,64.91 129.50,64.96 130.00,65.00 130.50,65.04 131.00,65.07 131.50,65.09 132.00,65.10 132.50,65.11 133.00,65.10 133.50,65.08 134.00,65.06 134.50,65.02 135.00,64.98 135.50,64.93 136.00,64.88 136.50,64.81 137.00,64.75 137.50,64.67 138.00,64.59 138.50,64.51 139.00,64.42 139.50,64.33 140.00,64.22 140.50,64.12 141.00,64.00 141.50,63.88 142.00,63.75 142.50,63.61 143.00,63.46 143.50,63.30 144.00,63.13 144.50,62.95 145.00,62.76 145.50,62.56 146.00,62.34 146.50,62.11 147.00,61.86 147.50,61.60 148.00,61.33 148.50,61.05 149.00,60.76 149.50,60.47 150.00,60.18 150.50,59.88 151.00,59.59 151.50,59.29 152.00,59.00 152.50,58.71 153.00,58.43 153.50,58.15 154.00,57.88 154.50,57.61 155.00,57.33 155.50,57.06 156.00,56.79 156.50,56.52 157.00,56.24 157.50,55.97 158.00,55.69 158.50,55.40 159.00,55.11 159.50,54.82 160.00,54.52 160.50,54.21 161.00,53.90 161.50,53.58 162.00,53.26 162.50,52.94 163.00,52.62 163.50,52.29 164.00,51.97 164.50,51.64 165.00,51.32 165.50,51.01 166.00,50.69 166.50,50.38 167.00,50.08 167.50,49.79 168.00,49.50 168.50,49.22 169.00,48.95 169.50,48.69 170.00,48.43 170.50,48.18 171.00,47.94 171.50,47.70 172.00,47.47 172.50,47.24 173.00,47.02 173.50,46.80 174.00,46.58 174.50,46.36 175.00,46.15 175.50,45.93 176.00,45.72 176.50,45.51 177.00,45.29 177.50,45.08 178.00,44.86 178.50,44.64 179.00,44.42 179.50,44.20 180.00,43.97 180.50,43.74 181.00,43.52 181.50,43.28 182.00,43.05 182.50,42.82 183.00,42.59 183.50,42.35 184.00,42.12 184.50,41.89 185.00,41.65 185.50,41.42 186.00,41.20 186.50,40.97 187.00,40.74 187.50,40.52 188.00,40.30 188.50,40.08 189.00,39.87 189.50,39.66 190.00,39.45 190.50,39.25 191.00,39.04 191.50,38.85 192.00,38.65 192.50,38.46 193.00,38.27 193.50,38.08 194.00,37.90 194.50,37.72 195.00,37.54 195.50,37.37 196.00,37.20 196.50,37.03 197.00,36.86 197.50,36.70 198.00,36.54 198.50,36.39 199.00,36.23 199.50,36.08 200.00,35.94 200.50,35.79 201.00,35.65 201.50,35.51 202.00,35.38 202.50,35.25 203.00,35.12 203.50,34.99 204.00,34.87 204.50,34.75 205.00,34.64 205.50,34.52 206.00,34.41 206.50,34.30 207.00,34.20 207.50,34.10 208.00,34.00 208.50,33.90 209.00,33.81 209.50,33.72 210.00,33.63 210.50,33.55 211.00,33.47 211.50,33.39 212.00,33.31 212.50,33.23 213.00,33.16 213.50,33.09 214.00,33.02 214.50,32.95 215.00,32.89 215.50,32.82 216.00,32.76 216.50,32.70 217.00,32.64 217.50,32.58 218.00,32.53 218.50,32.47 219.00,32.42 219.50,32.37 220.00,32.32 220.50,32.27 221.00,32.23 221.50,32.18 222.00,32.14 222.50,32.09 223.00,32.05 223.50,32.01 224.00,31.97 224.50,31.94 225.00,31.90 225.50,31.87 226.00,31.83 226.50,31.80 227.00,31.77 227.50,31.74 228.00,31.71 228.50,31.68 229.00,31.66 229.50,31.63 230.00,31.61 230.50,31.59 231.00,31.57 231.50,31.55 232.00,31.53 232.50,31.52 233.00,31.50 233.50,31.49 234.00,31.47 234.50,31.46 235.00,31.45 235.50,31.44 236.00,31.43 236.50,31.43 237.00,31.42 237.50,31.42 238.00,31.41 238.50,31.41 239.00,31.41 239.50,31.41 240.00,31.41 240.50,31.42 241.00,31.42 241.50,31.43 242.00,31.43 242.50,31.44 243.00,31.45 243.50,31.46 244.00,31.47 244.50,31.49 245.00,31.50" fill="none" stroke="#ffa4ff" stroke-width="1.0" stroke-linejoin="round"/>
<line x1="136.5" y1="25.5" x2="136.5" y2="188" stroke="#a8a8a8" stroke-width="0.7"/>
<line x1="26.8" y1="188.2" x2="245.3" y2="188.2" stroke="#222" stroke-width="0.9"/>
<line x1="26.80" y1="188.2" x2="26.80" y2="191.10" stroke="#222" stroke-width="0.85"/>
<line x1="48.65" y1="188.2" x2="48.65" y2="189.80" stroke="#222" stroke-width="0.85"/>
<line x1="70.50" y1="188.2" x2="70.50" y2="191.10" stroke="#222" stroke-width="0.85"/>
<line x1="92.35" y1="188.2" x2="92.35" y2="189.80" stroke="#222" stroke-width="0.85"/>
<line x1="114.20" y1="188.2" x2="114.20" y2="191.10" stroke="#222" stroke-width="0.85"/>
<line x1="136.05" y1="188.2" x2="136.05" y2="189.80" stroke="#222" stroke-width="0.85"/>
<line x1="157.90" y1="188.2" x2="157.90" y2="191.10" stroke="#222" stroke-width="0.85"/>
<line x1="179.75" y1="188.2" x2="179.75" y2="189.80" stroke="#222" stroke-width="0.85"/>
<line x1="201.60" y1="188.2" x2="201.60" y2="191.10" stroke="#222" stroke-width="0.85"/>
<line x1="223.45" y1="188.2" x2="223.45" y2="189.80" stroke="#222" stroke-width="0.85"/>
<line x1="245.30" y1="188.2" x2="245.30" y2="191.10" stroke="#222" stroke-width="0.85"/>
<text x="26.80" y="198.6" class="ta">3600</text>
<text x="70.50" y="198.6" class="ta">3500</text>
<text x="114.20" y="198.6" class="ta">3400</text>
<text x="157.90" y="198.6" class="ta">3300</text>
<text x="201.60" y="198.6" class="ta">3200</text>
<text x="245.30" y="198.6" class="ta">3100</text>
<text x="132.8" y="213.5" class="wa">Wavenumbers</text>
<text x="136.4" y="243.8" class="cap">(<tspan font-weight="bold" fill="#151515">a</tspan>)</text>
<text x="27.5" y="27.9" class="la">CO<tspan class="sa" dy="1.6">0%</tspan><tspan dy="-1.6">-WPU</tspan></text>
<text x="27.5" y="51.3" class="la">CO<tspan class="sa" dy="1.6">2.03%</tspan><tspan dy="-1.6">-WPU</tspan></text>
<text x="27.5" y="75.4" class="la">CO<tspan class="sa" dy="1.6">3.73%</tspan><tspan dy="-1.6">-WPU</tspan></text>
<text x="27.5" y="101.3" class="la">CO<tspan class="sa" dy="1.6">7.40%</tspan><tspan dy="-1.6">-WPU</tspan></text>
<text x="27.5" y="122.4" class="la">CO<tspan class="sa" dy="1.6">9.90%</tspan><tspan dy="-1.6">-WPU</tspan></text>
<polyline points="277.30,112.10 277.50,112.10 277.70,112.10 277.90,112.10 278.10,112.10 278.30,112.10 278.50,112.10 278.70,112.10 278.90,112.10 279.10,112.10 279.30,112.10 279.50,112.10 279.70,112.10 279.90,112.10 280.10,112.10 280.30,112.10 280.50,112.10 280.70,112.10 280.90,112.10 281.10,112.10 281.30,112.10 281.50,112.10 281.70,112.10 281.90,112.10 282.10,112.10 282.30,112.10 282.50,112.10 282.70,112.10 282.90,112.10 283.10,112.10 283.30,112.10 283.50,112.10 283.70,112.10 283.90,112.10 284.10,112.10 284.30,112.10 284.50,112.10 284.70,112.10 284.90,112.10 285.10,112.10 285.30,112.10 285.50,112.10 285.70,112.10 285.90,112.10 286.10,112.10 286.30,112.10 286.50,112.10 286.70,112.10 286.90,112.10 287.10,112.10 287.30,112.10 287.50,112.10 287.70,112.10 287.90,112.10 288.10,112.10 288.30,112.10 288.50,112.10 288.70,112.10 288.90,112.10 289.10,112.10 289.30,112.10 289.50,112.10 289.70,112.10 289.90,112.10 290.10,112.10 290.30,112.10 290.50,112.10 290.70,112.10 290.90,112.10 291.10,112.10 291.30,112.11 291.50,112.11 291.70,112.11 291.90,112.11 292.10,112.11 292.30,112.12 292.50,112.12 292.70,112.12 292.90,112.13 293.10,112.13 293.30,112.13 293.50,112.14 293.70,112.14 293.90,112.14 294.10,112.15 294.30,112.15 294.50,112.16 294.70,112.16 294.90,112.17 295.10,112.17 295.30,112.18 295.50,112.18 295.70,112.19 295.90,112.20 296.10,112.20 296.30,112.21 296.50,112.22 296.70,112.22 296.90,112.23 297.10,112.24 297.30,112.24 297.50,112.25 297.70,112.26 297.90,112.27 298.10,112.28 298.30,112.28 298.50,112.29 298.70,112.30 298.90,112.31 299.10,112.32 299.30,112.33 299.50,112.34 299.70,112.35 299.90,112.36 300.10,112.36 300.30,112.37 300.50,112.38 300.70,112.39 300.90,112.41 301.10,112.42 301.30,112.43 301.50,112.45 301.70,112.48 301.90,112.50 302.10,112.53 302.30,112.55 302.50,112.58 302.70,112.62 302.90,112.65 303.10,112.69 303.30,112.73 303.50,112.76 303.70,112.81 303.90,112.85 304.10,112.89 304.30,112.93 304.50,112.98 304.70,113.02 304.90,113.07 305.10,113.12 305.30,113.16 305.50,113.21 305.70,113.26 305.90,113.31 306.10,113.35 306.30,113.40 306.50,113.45 306.70,113.50 306.90,113.55 307.10,113.60 307.30,113.66 307.50,113.71 307.70,113.77 307.90,113.83 308.10,113.89 308.30,113.95 308.50,114.01 308.70,114.08 308.90,114.14 309.10,114.21 309.30,114.28 309.50,114.35 309.70,114.42 309.90,114.49 310.10,114.56 310.30,114.63 310.50,114.70 310.70,114.78 310.90,114.85 311.10,114.93 311.30,115.01 311.50,115.08 311.70,115.16 311.90,115.24 312.10,115.32 312.30,115.39 312.50,115.47 312.70,115.55 312.90,115.63 313.10,115.71 313.30,115.79 313.50,115.88 313.70,115.96 313.90,116.05 314.10,116.14 314.30,116.24 314.50,116.34 314.70,116.44 314.90,116.54 315.10,116.65 315.30,116.76 315.50,116.88 315.70,117.01 315.90,117.13 316.10,117.27 316.30,117.41 316.50,117.57 316.70,117.74 316.90,117.92 317.10,118.11 317.30,118.32 317.50,118.53 317.70,118.75 317.90,118.98 318.10,119.22 318.30,119.47 318.50,119.73 318.70,120.00 318.90,120.29 319.10,120.61 319.30,120.96 319.50,121.33 319.70,121.72 319.90,122.13 320.10,122.54 320.30,122.96 320.50,123.38 320.70,123.80 320.90,124.21 321.10,124.66 321.30,125.13 321.50,125.62 321.70,126.10 321.90,126.57 322.10,127.02 322.30,127.41 322.50,127.76 322.70,128.04 322.90,128.31 323.10,128.59 323.30,128.84 323.50,129.05 323.70,129.20 323.90,129.29 324.10,129.30 324.30,129.28 324.50,129.25 324.70,129.21 324.90,129.16 325.10,129.10 325.30,129.04 325.50,128.95 325.70,128.80 325.90,128.58 326.10,128.31 326.30,128.00 326.50,127.68 326.70,127.36 326.90,127.04 327.10,126.69 327.30,126.32 327.50,125.92 327.70,125.51 327.90,125.09 328.10,124.68 328.30,124.29 328.50,123.91 328.70,123.53 328.90,123.14 329.10,122.74 329.30,122.34 329.50,121.95 329.70,121.56 329.90,121.18 330.10,120.82 330.30,120.47 330.50,120.14 330.70,119.83 330.90,119.55 331.10,119.30 331.30,119.07 331.50,118.85 331.70,118.64 331.90,118.43 332.10,118.23 332.30,118.04 332.50,117.86 332.70,117.68 332.90,117.51 333.10,117.34 333.30,117.18 333.50,117.03 333.70,116.87 333.90,116.73 334.10,116.58 334.30,116.45 334.50,116.31 334.70,116.18 334.90,116.05 335.10,115.92 335.30,115.80 335.50,115.67 335.70,115.55 335.90,115.42 336.10,115.28 336.30,115.15 336.50,115.02 336.70,114.89 336.90,114.76 337.10,114.63 337.30,114.51 337.50,114.40 337.70,114.29 337.90,114.19 338.10,114.10 338.30,114.02 338.50,113.95 338.70,113.89 338.90,113.85 339.10,113.82 339.30,113.80 339.50,113.80 339.70,113.80 339.90,113.80 340.10,113.80 340.30,113.80 340.50,113.80 340.70,113.80 340.90,113.80 341.10,113.80 341.30,113.80 341.50,113.80 341.70,113.80 341.90,113.80 342.10,113.80 342.30,113.80 342.50,113.80 342.70,113.80 342.90,113.80 343.10,113.80 343.30,113.80 343.50,113.80 343.70,113.81 343.90,113.86 344.10,113.93 344.30,114.01 344.50,114.12 344.70,114.24 344.90,114.38 345.10,114.52 345.30,114.67 345.50,114.83 345.70,114.98 345.90,115.13 346.10,115.27 346.30,115.41 346.50,115.56 346.70,115.71 346.90,115.88 347.10,116.07 347.30,116.28 347.50,116.52 347.70,116.80 347.90,117.17 348.10,117.68 348.30,118.29 348.50,119.00 348.70,119.78 348.90,120.60 349.10,121.44 349.30,122.29 349.50,123.11 349.70,123.97 349.90,124.86 350.10,125.82 350.30,126.86 350.50,127.99 350.70,129.25 350.90,130.73 351.10,132.38 351.30,134.15 351.50,136.00 351.70,137.99 351.90,140.17 352.10,142.45 352.30,144.74 352.50,146.95 352.70,149.10 352.90,151.60 353.10,154.13 353.30,156.25 353.50,157.52 353.70,157.63 353.90,157.16 354.10,156.37 354.30,155.43 354.50,154.50 354.70,153.50 354.90,152.32 355.10,151.14 355.30,150.10 355.50,149.24 355.70,148.48 355.90,147.77 356.10,147.06 356.30,146.32 356.50,145.50 356.70,144.57 356.90,143.54 357.10,142.47 357.30,141.43 357.50,140.45 357.70,139.54 357.90,138.55 358.10,137.59 358.30,136.88 358.50,136.60 358.70,137.04 358.90,138.00 359.10,138.96 359.30,139.40 359.50,138.93 359.70,137.76 359.90,136.26 360.10,134.80 360.30,133.40 360.50,131.84 360.70,130.07 360.90,127.98 361.10,126.00 361.30,124.26 361.50,122.61 361.70,121.15 361.90,119.89 362.10,118.73 362.30,117.73 362.50,117.00 362.70,116.50 362.90,116.08 363.10,115.76 363.30,115.50 363.50,115.28 363.70,115.08 363.90,114.90 364.10,114.76 364.30,114.65 364.50,114.60 364.70,114.58 364.90,114.56 365.10,114.54 365.30,114.52 365.50,114.50 365.70,114.49 365.90,114.48 366.10,114.46 366.30,114.45 366.50,114.45 366.70,114.44 366.90,114.43 367.10,114.42 367.30,114.42 367.50,114.41 367.70,114.41 367.90,114.40 368.10,114.40 368.30,114.39 368.50,114.39 368.70,114.38 368.90,114.38 369.10,114.38 369.30,114.37 369.50,114.37 369.70,114.37 369.90,114.36 370.10,114.36 370.30,114.36 370.50,114.36 370.70,114.36 370.90,114.35 371.10,114.35 371.30,114.35 371.50,114.35 371.70,114.34 371.90,114.34 372.10,114.34 372.30,114.34 372.50,114.34 372.70,114.33 372.90,114.33 373.10,114.33 373.30,114.32 373.50,114.32 373.70,114.32 373.90,114.31 374.10,114.31 374.30,114.30 374.50,114.30 374.70,114.29 374.90,114.29 375.10,114.28 375.30,114.27 375.50,114.26 375.70,114.25 375.90,114.24 376.10,114.23 376.30,114.22 376.50,114.21 376.70,114.19 376.90,114.18 377.10,114.16 377.30,114.15 377.50,114.13 377.70,114.12 377.90,114.10 378.10,114.09 378.30,114.07 378.50,114.05 378.70,114.04 378.90,114.02 379.10,114.00 379.30,113.99 379.50,113.97 379.70,113.95 379.90,113.94 380.10,113.92 380.30,113.91 380.50,113.89 380.70,113.88 380.90,113.86 381.10,113.85 381.30,113.83 381.50,113.82 381.70,113.81 381.90,113.79 382.10,113.78 382.30,113.77 382.50,113.76 382.70,113.75 382.90,113.74 383.10,113.73 383.30,113.71 383.50,113.70 383.70,113.69 383.90,113.68 384.10,113.67 384.30,113.66 384.50,113.65 384.70,113.64 384.90,113.63 385.10,113.62 385.30,113.61 385.50,113.60 385.70,113.59 385.90,113.58 386.10,113.57 386.30,113.56 386.50,113.55 386.70,113.54 386.90,113.53 387.10,113.52 387.30,113.51 387.50,113.50 387.70,113.49 387.90,113.47 388.10,113.46 388.30,113.45 388.50,113.44 388.70,113.43 388.90,113.41 389.10,113.40 389.30,113.39 389.50,113.37 389.70,113.36 389.90,113.35 390.10,113.33 390.30,113.32 390.50,113.30 390.70,113.29 390.90,113.27 391.10,113.26 391.30,113.24 391.50,113.23 391.70,113.21 391.90,113.20 392.10,113.18 392.30,113.17 392.50,113.15 392.70,113.13 392.90,113.12 393.10,113.10 393.30,113.08 393.50,113.07 393.70,113.05 393.90,113.03 394.10,113.02 394.30,113.00 394.50,112.98 394.70,112.96 394.90,112.94 395.10,112.92 395.30,112.91 395.50,112.89 395.70,112.87 395.90,112.85 396.10,112.83 396.30,112.81 396.50,112.79 396.70,112.77 396.90,112.75 397.10,112.72 397.30,112.70 397.50,112.67 397.70,112.65 397.90,112.62 398.10,112.59 398.30,112.57 398.50,112.54 398.70,112.51 398.90,112.48 399.10,112.45 399.30,112.42 399.50,112.39 399.70,112.36 399.90,112.33 400.10,112.30 400.30,112.27 400.50,112.24 400.70,112.22 400.90,112.19 401.10,112.16 401.30,112.13 401.50,112.11 401.70,112.08 401.90,112.06 402.10,112.03 402.30,112.01 402.50,111.99 402.70,111.97 402.90,111.95 403.10,111.94 403.30,111.92 403.50,111.91 403.70,111.89 403.90,111.88 404.10,111.87 404.30,111.86 404.50,111.84 404.70,111.83 404.90,111.82 405.10,111.81 405.30,111.80 405.50,111.79 405.70,111.77 405.90,111.76 406.10,111.75 406.30,111.74 406.50,111.73 406.70,111.72 406.90,111.71 407.10,111.70 407.30,111.69 407.50,111.68 407.70,111.67 407.90,111.67 408.10,111.66 408.30,111.65 408.50,111.64 408.70,111.64 408.90,111.63 409.10,111.63 409.30,111.62 409.50,111.62 409.70,111.61 409.90,111.61 410.10,111.61 410.30,111.60 410.50,111.60 410.70,111.60 410.90,111.60 411.10,111.60 411.30,111.60 411.50,111.60 411.70,111.60 411.90,111.60 412.10,111.60 412.30,111.60 412.50,111.60 412.70,111.60 412.90,111.60 413.10,111.60 413.30,111.60 413.50,111.60 413.70,111.60 413.90,111.60 414.10,111.60 414.30,111.60 414.50,111.60 414.70,111.60 414.90,111.60 415.10,111.60 415.30,111.60 415.50,111.60 415.70,111.60 415.90,111.60 416.10,111.60 416.30,111.60 416.50,111.60 416.70,111.60 416.90,111.60 417.10,111.60 417.30,111.60 417.50,111.60 417.70,111.60 417.90,111.60 418.10,111.60 418.30,111.60 418.50,111.60 418.70,111.60 418.90,111.60 419.10,111.60 419.30,111.60 419.50,111.60 419.70,111.60 419.90,111.60 420.10,111.60 420.30,111.60 420.50,111.60 420.70,111.60 420.90,111.60 421.10,111.60 421.30,111.60 421.50,111.60 421.70,111.60 421.90,111.60 422.10,111.60 422.30,111.60 422.50,111.60 422.70,111.60 422.90,111.60 423.10,111.60 423.30,111.60 423.50,111.60 423.70,111.60 423.90,111.60 424.10,111.60 424.30,111.60 424.50,111.60 424.70,111.60 424.90,111.60 425.10,111.60 425.30,111.60 425.50,111.60 425.70,111.60 425.90,111.60 426.10,111.60 426.30,111.60 426.50,111.60 426.70,111.60 426.90,111.60 427.10,111.60 427.30,111.60 427.50,111.60 427.70,111.60 427.90,111.60 428.10,111.60 428.30,111.60 428.50,111.60 428.70,111.60 428.90,111.60 429.10,111.60 429.30,111.60 429.50,111.60 429.70,111.60 429.90,111.60 430.10,111.60 430.30,111.61 430.50,111.63 430.70,111.64 430.90,111.66 431.10,111.69 431.30,111.71 431.50,111.74 431.70,111.78 431.90,111.81 432.10,111.85 432.30,111.89 432.50,111.94 432.70,111.98 432.90,112.03 433.10,112.09 433.30,112.14 433.50,112.19 433.70,112.25 433.90,112.31 434.10,112.37 434.30,112.43 434.50,112.51 434.70,112.60 434.90,112.70 435.10,112.82 435.30,112.95 435.50,113.09 435.70,113.25 435.90,113.42 436.10,113.60 436.30,113.80 436.50,114.03 436.70,114.33 436.90,114.67 437.10,115.07 437.30,115.51 437.50,116.00 437.70,116.58 437.90,117.28 438.10,118.10 438.30,119.01 438.50,120.01 438.70,121.13 438.90,122.45 439.10,124.06 439.30,126.17 439.50,129.32 439.70,133.08 439.90,136.93 440.10,141.07 440.30,145.73 440.50,151.31 440.70,157.80 440.90,164.11 441.10,170.35 441.30,176.69 441.50,184.57 441.70,188.80 441.90,186.83 442.10,182.84 442.30,179.36 442.50,175.95 442.70,172.59 442.90,169.47 443.10,166.49 443.30,163.65 443.50,161.00 443.70,158.59 443.90,156.35 444.10,154.14 444.30,151.86 444.50,149.59 444.70,147.25 444.90,144.66 445.10,141.76 445.30,138.79 445.50,136.00 445.70,133.38 445.90,130.83 446.10,128.49 446.30,126.50 446.50,124.79 446.70,123.19 446.90,121.74 447.10,120.47 447.30,119.43 447.50,118.61 447.70,117.87 447.90,117.19 448.10,116.58 448.30,116.06 448.50,115.63 448.70,115.31 448.90,115.10 449.10,114.92 449.30,114.74 449.50,114.58 449.70,114.44 449.90,114.31 450.10,114.20 450.30,114.12 450.50,114.05 450.70,114.01 450.90,114.00 451.10,114.04 451.30,114.14 451.50,114.30 451.70,114.50 451.90,114.72 452.10,114.96 452.30,115.20 452.50,115.46 452.70,115.77 452.90,116.12 453.10,116.53 453.30,117.00 453.50,117.55 453.70,118.21 453.90,119.00 454.10,119.93 454.30,121.00 454.50,122.40 454.70,124.22 454.90,126.37 455.10,128.75 455.30,131.51 455.50,135.59 455.70,140.23 455.90,144.36 456.10,146.93 456.30,147.16 456.50,146.13 456.70,144.39 456.90,142.25 457.10,140.04 457.30,137.90 457.50,135.27 457.70,132.43 457.90,129.85 458.10,128.00 458.30,126.69 458.50,125.44 458.70,124.32 458.90,123.39 459.10,122.72 459.30,122.35 459.50,122.44 459.70,123.44 459.90,125.09 460.10,127.06 460.30,129.00 460.50,131.39 460.70,134.41 460.90,137.23 461.10,139.04 461.30,139.17 461.50,138.27 461.70,136.85 461.90,135.30 462.10,134.00 462.30,132.94 462.50,131.90 462.70,130.94 462.90,130.13 463.10,129.50 463.30,128.91 463.50,128.33 463.70,127.79 463.90,127.30 464.10,126.89 464.30,126.58 464.50,126.37 464.70,126.30 464.90,126.40 465.10,126.65 465.30,127.00 465.50,127.40 465.70,127.80 465.90,128.23 466.10,128.74 466.30,129.28 466.50,129.80 466.70,130.39 466.90,131.05 467.10,131.58 467.30,131.80 467.50,131.72 467.70,131.52 467.90,131.28 468.10,131.08 468.30,131.00 468.50,131.41 468.70,132.41 468.90,133.67 469.10,134.84 469.30,135.59 469.50,135.68 469.70,135.51 469.90,135.25 470.10,134.95 470.30,134.69 470.50,134.52 470.70,134.53 470.90,134.74 471.10,135.11 471.30,135.59 471.50,136.12 471.70,136.65 471.90,137.15 472.10,137.70 472.30,138.29 472.50,138.91 472.70,139.53 472.90,140.12 473.10,140.66 473.30,141.14 473.50,141.59 473.70,142.04 473.90,142.53 474.10,143.09 474.30,143.75 474.50,144.56 474.70,145.49 474.90,146.49 475.10,147.54 475.30,148.72 475.50,149.98 475.70,151.24 475.90,152.40 476.10,153.40 476.30,154.29 476.50,155.14 476.70,156.03 476.90,157.06 477.10,158.30 477.30,160.46 477.50,163.05 477.70,164.30 477.90,163.53 478.10,161.81 478.30,160.00 478.50,158.20 478.70,156.30 478.90,154.80 479.10,153.67 479.30,152.58 479.50,151.61 479.70,150.82 479.90,150.29 480.10,150.10 480.30,150.17 480.50,150.38 480.70,150.68 480.90,151.05 481.10,151.47 481.30,151.90 481.50,152.42 481.70,153.09 481.90,153.86 482.10,154.70 482.30,155.57 482.50,156.51 482.70,157.77 482.90,158.74 483.10,158.76 483.30,157.81 483.50,156.31 483.70,154.50 483.90,151.71 484.10,148.50 484.30,145.55 484.50,142.57 484.70,139.75 484.90,137.30 485.10,134.89 485.30,132.82 485.50,131.50 485.70,130.73 485.90,130.09 486.10,129.66 486.30,129.50 486.50,129.98 486.70,131.11 486.90,132.42 487.10,133.61 487.30,135.04 487.50,136.13 487.70,136.18 487.90,135.37 488.10,134.14 488.30,132.89 488.50,132.00 488.70,131.43 488.90,130.89 489.10,130.43 489.30,130.12 489.50,130.00 489.70,130.26 489.90,130.90 490.10,131.75 490.30,132.62 490.50,133.39 490.70,134.34 490.90,135.34 491.10,136.20 491.30,136.73 491.50,136.73 491.70,136.24 491.90,135.42 492.10,134.42 492.30,133.39 492.50,132.50 492.70,131.70 492.90,130.86 493.10,130.04 493.30,129.27 493.50,128.59 493.70,128.04 493.90,127.54 494.10,127.09 494.30,126.68 494.50,126.31 494.70,125.96 494.90,125.64 495.10,125.34 495.30,125.05 495.50,124.78 495.70,124.53 495.90,124.30 496.10,124.09 496.30,123.90 496.50,123.74 496.70,123.61 496.90,123.49 497.10,123.39 497.30,123.29 497.50,123.18 497.70,123.05 497.90,122.89 498.10,122.70 498.30,122.42 498.50,122.01 498.70,121.50 498.90,120.94 499.10,120.34 499.30,119.75 499.50,119.20 499.70,118.71 499.90,118.30 500.10,117.91 500.30,117.51 500.50,117.13 500.70,116.77 500.90,116.43 501.10,116.13 501.30,115.88 501.50,115.68 501.70,115.53 501.90,115.42 502.10,115.32 502.30,115.24 502.50,115.17 502.70,115.10 502.90,115.03 503.10,114.95 503.30,114.85 503.50,114.74 503.70,114.61 503.90,114.46 504.10,114.30 504.30,114.13 504.50,113.96 504.70,113.78 504.90,113.61 505.10,113.44 505.30,113.28 505.50,113.13 505.70,113.00 505.90,112.87 506.10,112.74 506.30,112.61 506.50,112.47 506.70,112.34 506.90,112.22 507.10,112.10 507.30,112.00 507.50,111.92 507.70,111.85 507.90,111.81 508.10,111.80 508.30,111.83 508.50,111.90 508.70,112.01 508.90,112.15 509.10,112.32 509.30,112.51 509.50,112.70 509.70,112.90 509.90,113.10 510.10,113.30 510.30,113.52 510.50,113.79 510.70,114.13 510.90,114.55 511.10,115.29 511.30,117.05 511.50,118.63 511.70,118.66 511.90,117.23 512.10,115.69 512.30,115.13 512.50,114.84 512.70,114.59 512.90,114.40 513.10,114.27 513.30,114.21 513.50,114.21 513.70,114.28 513.90,114.41 514.10,114.57 514.30,114.75 514.50,114.93 514.70,115.09 514.90,115.22 515.10,115.29 515.30,115.30 515.50,115.26 515.70,115.20 515.90,115.12 516.10,115.03 516.30,114.94 516.50,114.87 516.70,114.82 516.90,114.80 517.10,114.82 517.30,114.87 517.50,114.94 517.70,115.04 517.90,115.16 518.10,115.30 518.30,115.44 518.50,115.59 518.70,115.75 518.90,115.90 519.10,116.05 519.30,116.19 519.50,116.31 519.70,116.42 519.90,116.50 520.10,116.57 520.30,116.64 520.50,116.72 520.70,116.79 520.90,116.85 521.10,116.92 521.30,116.97 521.50,117.02 521.70,117.06 521.90,117.08 522.10,117.10 522.30,117.10 522.50,117.09 522.70,117.06 522.90,117.03 523.10,116.99 523.30,116.94 523.50,116.88 523.70,116.82 523.90,116.75 524.10,116.68 524.30,116.61 524.50,116.54 524.70,116.46 524.90,116.36 525.10,116.24 525.30,116.09 525.50,115.94 525.70,115.78 525.90,115.61 526.10,115.44 526.30,115.27 526.50,115.12 526.70,114.98 526.90,114.85 527.10,114.75 527.30,114.65 527.50,114.56 527.70,114.46 527.90,114.38 528.10,114.29 528.30,114.22 528.50,114.15 528.70,114.08 528.90,114.03 529.10,113.98 529.30,113.93 529.50,113.88 529.70,113.84 529.90,113.79 530.10,113.75 530.30,113.72 530.50,113.69 530.70,113.66 530.90,113.63 531.10,113.61 531.30,113.60" fill="none" stroke="#585858" stroke-width="0.92" stroke-linejoin="round"/>
<polyline points="277.30,90.40 277.50,90.40 277.70,90.40 277.90,90.40 278.10,90.40 278.30,90.41 278.50,90.41 278.70,90.41 278.90,90.41 279.10,90.41 279.30,90.41 279.50,90.41 279.70,90.41 279.90,90.41 280.10,90.41 280.30,90.41 280.50,90.41 280.70,90.42 280.90,90.42 281.10,90.42 281.30,90.42 281.50,90.42 281.70,90.42 281.90,90.42 282.10,90.42 282.30,90.42 282.50,90.42 282.70,90.42 282.90,90.42 283.10,90.43 283.30,90.43 283.50,90.43 283.70,90.43 283.90,90.43 284.10,90.43 284.30,90.43 284.50,90.43 284.70,90.43 284.90,90.43 285.10,90.43 285.30,90.43 285.50,90.44 285.70,90.44 285.90,90.44 286.10,90.44 286.30,90.44 286.50,90.44 286.70,90.44 286.90,90.44 287.10,90.44 287.30,90.44 287.50,90.44 287.70,90.44 287.90,90.45 288.10,90.45 288.30,90.45 288.50,90.45 288.70,90.45 288.90,90.45 289.10,90.45 289.30,90.45 289.50,90.45 289.70,90.45 289.90,90.45 290.10,90.46 290.30,90.46 290.50,90.46 290.70,90.46 290.90,90.46 291.10,90.46 291.30,90.47 291.50,90.47 291.70,90.47 291.90,90.48 292.10,90.48 292.30,90.48 292.50,90.49 292.70,90.49 292.90,90.49 293.10,90.50 293.30,90.50 293.50,90.51 293.70,90.51 293.90,90.52 294.10,90.53 294.30,90.53 294.50,90.54 294.70,90.54 294.90,90.55 295.10,90.56 295.30,90.56 295.50,90.57 295.70,90.58 295.90,90.59 296.10,90.59 296.30,90.60 296.50,90.61 296.70,90.62 296.90,90.63 297.10,90.64 297.30,90.65 297.50,90.66 297.70,90.67 297.90,90.68 298.10,90.69 298.30,90.70 298.50,90.71 298.70,90.72 298.90,90.73 299.10,90.74 299.30,90.75 299.50,90.76 299.70,90.77 299.90,90.79 300.10,90.80 300.30,90.81 300.50,90.82 300.70,90.84 300.90,90.85 301.10,90.87 301.30,90.89 301.50,90.91 301.70,90.94 301.90,90.96 302.10,91.00 302.30,91.03 302.50,91.07 302.70,91.11 302.90,91.15 303.10,91.19 303.30,91.24 303.50,91.28 303.70,91.33 303.90,91.38 304.10,91.43 304.30,91.49 304.50,91.54 304.70,91.60 304.90,91.65 305.10,91.71 305.30,91.77 305.50,91.82 305.70,91.88 305.90,91.94 306.10,92.00 306.30,92.05 306.50,92.11 306.70,92.17 306.90,92.24 307.10,92.30 307.30,92.37 307.50,92.44 307.70,92.51 307.90,92.58 308.10,92.66 308.30,92.73 308.50,92.81 308.70,92.89 308.90,92.97 309.10,93.05 309.30,93.14 309.50,93.22 309.70,93.31 309.90,93.40 310.10,93.49 310.30,93.58 310.50,93.67 310.70,93.76 310.90,93.85 311.10,93.94 311.30,94.03 311.50,94.12 311.70,94.22 311.90,94.31 312.10,94.41 312.30,94.50 312.50,94.60 312.70,94.69 312.90,94.79 313.10,94.89 313.30,94.99 313.50,95.09 313.70,95.19 313.90,95.30 314.10,95.41 314.30,95.52 314.50,95.64 314.70,95.76 314.90,95.89 315.10,96.02 315.30,96.16 315.50,96.30 315.70,96.45 315.90,96.60 316.10,96.77 316.30,96.94 316.50,97.13 316.70,97.34 316.90,97.55 317.10,97.78 317.30,98.03 317.50,98.28 317.70,98.55 317.90,98.83 318.10,99.12 318.30,99.42 318.50,99.73 318.70,100.05 318.90,100.40 319.10,100.79 319.30,101.21 319.50,101.66 319.70,102.13 319.90,102.61 320.10,103.11 320.30,103.62 320.50,104.12 320.70,104.62 320.90,105.11 321.10,105.65 321.30,106.22 321.50,106.81 321.70,107.39 321.90,107.96 322.10,108.49 322.30,108.97 322.50,109.38 322.70,109.72 322.90,110.05 323.10,110.38 323.30,110.68 323.50,110.93 323.70,111.12 323.90,111.22 324.10,111.24 324.30,111.22 324.50,111.18 324.70,111.14 324.90,111.08 325.10,111.01 325.30,110.93 325.50,110.83 325.70,110.64 325.90,110.38 326.10,110.05 326.30,109.69 326.50,109.30 326.70,108.92 326.90,108.54 327.10,108.12 327.30,107.67 327.50,107.20 327.70,106.70 327.90,106.21 328.10,105.72 328.30,105.24 328.50,104.79 328.70,104.33 328.90,103.87 329.10,103.39 329.30,102.92 329.50,102.45 329.70,101.98 329.90,101.53 330.10,101.09 330.30,100.68 330.50,100.29 330.70,99.92 330.90,99.59 331.10,99.30 331.30,99.03 331.50,98.77 331.70,98.52 331.90,98.28 332.10,98.06 332.30,97.84 332.50,97.63 332.70,97.43 332.90,97.23 333.10,97.05 333.30,96.88 333.50,96.71 333.70,96.55 333.90,96.40 334.10,96.25 334.30,96.11 334.50,95.98 334.70,95.85 334.90,95.73 335.10,95.62 335.30,95.51 335.50,95.40 335.70,95.29 335.90,95.18 336.10,95.07 336.30,94.96 336.50,94.85 336.70,94.75 336.90,94.65 337.10,94.55 337.30,94.46 337.50,94.38 337.70,94.31 337.90,94.25 338.10,94.19 338.30,94.15 338.50,94.12 338.70,94.10 338.90,94.10 339.10,94.10 339.30,94.13 339.50,94.16 339.70,94.20 339.90,94.23 340.10,94.25 340.30,94.26 340.50,94.26 340.70,94.26 340.90,94.26 341.10,94.25 341.30,94.23 341.50,94.21 341.70,94.18 341.90,94.15 342.10,94.12 342.30,94.08 342.50,94.03 342.70,93.98 342.90,93.93 343.10,93.88 343.30,93.82 343.50,93.76 343.70,93.71 343.90,93.70 344.10,93.70 344.30,93.73 344.50,93.78 344.70,93.84 344.90,93.91 345.10,93.99 345.30,94.07 345.50,94.16 345.70,94.25 345.90,94.33 346.10,94.41 346.30,94.51 346.50,94.61 346.70,94.73 346.90,94.86 347.10,95.01 347.30,95.19 347.50,95.40 347.70,95.65 347.90,96.00 348.10,96.48 348.30,97.08 348.50,97.76 348.70,98.52 348.90,99.33 349.10,100.15 349.30,100.98 349.50,101.80 349.70,102.64 349.90,103.53 350.10,104.48 350.30,105.51 350.50,106.64 350.70,107.90 350.90,109.37 351.10,111.01 351.30,112.79 351.50,114.63 351.70,116.62 351.90,118.80 352.10,121.07 352.30,123.36 352.50,125.57 352.70,127.73 352.90,130.23 353.10,132.76 353.30,134.87 353.50,136.14 353.70,136.26 353.90,135.78 354.10,134.99 354.30,134.05 354.50,133.13 354.70,132.12 354.90,130.95 355.10,129.77 355.30,128.73 355.50,127.87 355.70,127.11 355.90,126.40 356.10,125.69 356.30,124.95 356.50,124.13 356.70,123.20 356.90,122.17 357.10,121.11 357.30,120.06 357.50,119.08 357.70,118.18 357.90,117.19 358.10,116.24 358.30,115.52 358.50,115.24 358.70,115.68 358.90,116.64 359.10,117.61 359.30,118.05 359.50,117.58 359.70,116.41 359.90,114.91 360.10,113.45 360.30,112.05 360.50,110.49 360.70,108.72 360.90,106.64 361.10,104.65 361.30,102.91 361.50,101.27 361.70,99.80 361.90,98.55 362.10,97.38 362.30,96.38 362.50,95.66 362.70,95.16 362.90,94.75 363.10,94.42 363.30,94.16 363.50,93.95 363.70,93.75 363.90,93.57 364.10,93.42 364.30,93.32 364.50,93.27 364.70,93.24 364.90,93.22 365.10,93.21 365.30,93.19 365.50,93.17 365.70,93.16 365.90,93.15 366.10,93.14 366.30,93.13 366.50,93.12 366.70,93.11 366.90,93.11 367.10,93.10 367.30,93.10 367.50,93.09 367.70,93.09 367.90,93.08 368.10,93.08 368.30,93.08 368.50,93.07 368.70,93.07 368.90,93.07 369.10,93.06 369.30,93.06 369.50,93.06 369.70,93.06 369.90,93.05 370.10,93.05 370.30,93.05 370.50,93.05 370.70,93.05 370.90,93.05 371.10,93.05 371.30,93.04 371.50,93.04 371.70,93.04 371.90,93.04 372.10,93.04 372.30,93.04 372.50,93.04 372.70,93.03 372.90,93.03 373.10,93.03 373.30,93.03 373.50,93.03 373.70,93.02 373.90,93.02 374.10,93.02 374.30,93.01 374.50,93.01 374.70,93.00 374.90,93.00 375.10,92.99 375.30,92.98 375.50,92.98 375.70,92.97 375.90,92.96 376.10,92.95 376.30,92.94 376.50,92.92 376.70,92.91 376.90,92.90 377.10,92.88 377.30,92.87 377.50,92.86 377.70,92.84 377.90,92.83 378.10,92.81 378.30,92.80 378.50,92.78 378.70,92.76 378.90,92.75 379.10,92.73 379.30,92.72 379.50,92.70 379.70,92.69 379.90,92.67 380.10,92.65 380.30,92.64 380.50,92.62 380.70,92.61 380.90,92.60 381.10,92.58 381.30,92.57 381.50,92.56 381.70,92.55 381.90,92.53 382.10,92.52 382.30,92.51 382.50,92.50 382.70,92.49 382.90,92.48 383.10,92.47 383.30,92.46 383.50,92.45 383.70,92.44 383.90,92.43 384.10,92.42 384.30,92.41 384.50,92.40 384.70,92.39 384.90,92.38 385.10,92.38 385.30,92.37 385.50,92.36 385.70,92.35 385.90,92.34 386.10,92.33 386.30,92.32 386.50,92.31 386.70,92.30 386.90,92.29 387.10,92.28 387.30,92.27 387.50,92.26 387.70,92.25 387.90,92.24 388.10,92.23 388.30,92.22 388.50,92.21 388.70,92.19 388.90,92.18 389.10,92.17 389.30,92.16 389.50,92.15 389.70,92.13 389.90,92.12 390.10,92.11 390.30,92.09 390.50,92.08 390.70,92.07 390.90,92.05 391.10,92.04 391.30,92.02 391.50,92.01 391.70,92.00 391.90,91.98 392.10,91.97 392.30,91.95 392.50,91.94 392.70,91.92 392.90,91.90 393.10,91.89 393.30,91.87 393.50,91.86 393.70,91.84 393.90,91.82 394.10,91.81 394.30,91.79 394.50,91.77 394.70,91.76 394.90,91.74 395.10,91.72 395.30,91.70 395.50,91.68 395.70,91.67 395.90,91.65 396.10,91.63 396.30,91.61 396.50,91.59 396.70,91.57 396.90,91.55 397.10,91.53 397.30,91.50 397.50,91.48 397.70,91.45 397.90,91.43 398.10,91.40 398.30,91.37 398.50,91.35 398.70,91.32 398.90,91.29 399.10,91.26 399.30,91.23 399.50,91.20 399.70,91.18 399.90,91.15 400.10,91.12 400.30,91.09 400.50,91.06 400.70,91.03 400.90,91.01 401.10,90.98 401.30,90.95 401.50,90.93 401.70,90.91 401.90,90.88 402.10,90.86 402.30,90.84 402.50,90.82 402.70,90.80 402.90,90.78 403.10,90.77 403.30,90.75 403.50,90.74 403.70,90.73 403.90,90.71 404.10,90.70 404.30,90.69 404.50,90.68 404.70,90.67 404.90,90.66 405.10,90.65 405.30,90.64 405.50,90.62 405.70,90.61 405.90,90.60 406.10,90.59 406.30,90.58 406.50,90.57 406.70,90.56 406.90,90.56 407.10,90.55 407.30,90.54 407.50,90.53 407.70,90.52 407.90,90.51 408.10,90.51 408.30,90.50 408.50,90.49 408.70,90.49 408.90,90.48 409.10,90.48 409.30,90.48 409.50,90.47 409.70,90.47 409.90,90.47 410.10,90.46 410.30,90.46 410.50,90.46 410.70,90.46 410.90,90.46 411.10,90.46 411.30,90.46 411.50,90.46 411.70,90.47 411.90,90.47 412.10,90.47 412.30,90.47 412.50,90.47 412.70,90.47 412.90,90.47 413.10,90.47 413.30,90.47 413.50,90.47 413.70,90.47 413.90,90.47 414.10,90.48 414.30,90.48 414.50,90.48 414.70,90.48 414.90,90.48 415.10,90.48 415.30,90.48 415.50,90.48 415.70,90.48 415.90,90.48 416.10,90.48 416.30,90.48 416.50,90.49 416.70,90.49 416.90,90.49 417.10,90.49 417.30,90.49 417.50,90.49 417.70,90.49 417.90,90.49 418.10,90.49 418.30,90.49 418.50,90.49 418.70,90.49 418.90,90.50 419.10,90.50 419.30,90.50 419.50,90.50 419.70,90.50 419.90,90.50 420.10,90.50 420.30,90.50 420.50,90.50 420.70,90.50 420.90,90.50 421.10,90.50 421.30,90.50 421.50,90.50 421.70,90.50 421.90,90.50 422.10,90.50 422.30,90.50 422.50,90.50 422.70,90.50 422.90,90.50 423.10,90.50 423.30,90.50 423.50,90.50 423.70,90.50 423.90,90.50 424.10,90.50 424.30,90.50 424.50,90.50 424.70,90.50 424.90,90.50 425.10,90.50 425.30,90.50 425.50,90.50 425.70,90.50 425.90,90.50 426.10,90.50 426.30,90.50 426.50,90.50 426.70,90.50 426.90,90.50 427.10,90.50 427.30,90.50 427.50,90.50 427.70,90.50 427.90,90.50 428.10,90.50 428.30,90.50 428.50,90.50 428.70,90.50 428.90,90.50 429.10,90.50 429.30,90.50 429.50,90.50 429.70,90.50 429.90,90.50 430.10,90.51 430.30,90.52 430.50,90.53 430.70,90.55 430.90,90.57 431.10,90.60 431.30,90.63 431.50,90.66 431.70,90.69 431.90,90.73 432.10,90.77 432.30,90.81 432.50,90.85 432.70,90.89 432.90,90.94 433.10,90.99 433.30,91.03 433.50,91.08 433.70,91.13 433.90,91.19 434.10,91.24 434.30,91.29 434.50,91.35 434.70,91.43 434.90,91.51 435.10,91.61 435.30,91.71 435.50,91.83 435.70,91.95 435.90,92.08 436.10,92.25 436.30,92.45 436.50,92.71 436.70,93.03 436.90,93.41 437.10,93.86 437.30,94.39 437.50,95.05 437.70,95.87 437.90,96.81 438.10,97.87 438.30,99.13 438.50,100.80 438.70,103.29 438.90,106.77 439.10,110.57 439.30,114.78 439.50,119.77 439.70,122.44 439.90,125.47 440.10,128.46 440.30,131.41 440.50,134.33 440.70,137.24 440.90,140.21 441.10,143.44 441.30,147.12 441.50,149.62 441.70,151.59 441.90,150.76 442.10,149.81 442.30,148.12 442.50,146.49 442.70,145.02 442.90,143.56 443.10,142.11 443.30,140.68 443.50,139.26 443.70,137.91 443.90,136.59 444.10,135.31 444.30,134.05 444.50,132.85 444.70,130.41 444.90,128.19 445.10,126.16 445.30,124.19 445.50,122.16 445.70,120.13 445.90,117.96 446.10,115.80 446.30,113.64 446.50,111.46 446.70,109.37 446.90,107.27 447.10,105.34 447.30,103.72 447.50,102.27 447.70,100.75 447.90,99.41 448.10,98.39 448.30,97.62 448.50,96.91 448.70,96.29 448.90,95.80 449.10,95.43 449.30,95.19 449.50,95.03 449.70,94.88 449.90,94.76 450.10,94.64 450.30,94.55 450.50,94.48 450.70,94.42 450.90,94.39 451.10,94.42 451.30,94.49 451.50,94.61 451.70,94.75 451.90,94.91 452.10,95.08 452.30,95.24 452.50,95.42 452.70,95.65 452.90,95.93 453.10,96.27 453.30,96.68 453.50,97.18 453.70,97.80 453.90,98.56 454.10,99.48 454.30,100.56 454.50,101.98 454.70,103.86 454.90,106.09 455.10,108.56 455.30,111.44 455.50,115.71 455.70,120.57 455.90,124.90 456.10,127.76 456.30,128.35 456.50,127.59 456.70,126.04 456.90,124.02 457.10,121.87 457.30,119.77 457.50,117.07 457.70,114.07 457.90,111.32 458.10,109.17 458.30,107.45 458.50,105.84 458.70,104.41 458.90,103.23 459.10,102.33 459.30,101.79 459.50,101.73 459.70,102.59 459.90,104.09 460.10,106.09 460.30,108.32 460.50,111.10 460.70,114.61 460.90,118.02 461.10,120.40 461.30,121.00 461.50,120.44 461.70,119.26 461.90,117.87 462.10,116.73 462.30,115.84 462.50,114.92 462.70,114.08 462.90,113.38 463.10,112.72 463.30,111.92 463.50,111.15 463.70,110.43 463.90,109.78 464.10,109.22 464.30,108.78 464.50,108.48 464.70,108.35 464.90,108.42 465.10,108.67 465.30,109.05 465.50,109.49 465.70,109.92 465.90,110.38 466.10,110.99 466.30,111.68 466.50,112.35 466.70,113.11 466.90,113.95 467.10,114.65 467.30,114.96 467.50,114.91 467.70,114.71 467.90,114.47 468.10,114.28 468.30,114.22 468.50,114.77 468.70,116.06 468.90,117.67 469.10,119.17 469.30,120.16 469.50,120.32 469.70,120.18 469.90,119.91 470.10,119.43 470.30,118.85 470.50,118.39 470.70,118.14 470.90,118.14 471.10,118.32 471.30,118.62 471.50,118.97 471.70,119.31 471.90,119.59 472.10,119.92 472.30,120.30 472.50,120.69 472.70,121.06 472.90,121.38 473.10,121.64 473.30,121.82 473.50,121.96 473.70,122.13 473.90,122.32 474.10,122.57 474.30,122.92 474.50,123.40 474.70,123.98 474.90,124.60 475.10,125.26 475.30,126.03 475.50,126.84 475.70,127.62 475.90,128.29 476.10,129.06 476.30,130.01 476.50,130.94 476.70,131.91 476.90,133.01 477.10,134.32 477.30,136.50 477.50,139.10 477.70,140.44 477.90,139.88 478.10,138.41 478.30,136.83 478.50,135.26 478.70,133.57 478.90,132.27 479.10,131.31 479.30,130.38 479.50,129.56 479.70,128.91 479.90,128.52 480.10,128.45 480.30,128.65 480.50,128.97 480.70,129.39 480.90,129.88 481.10,130.31 481.30,130.63 481.50,131.04 481.70,131.59 481.90,132.25 482.10,132.97 482.30,133.70 482.50,134.51 482.70,135.62 482.90,136.45 483.10,136.34 483.30,135.29 483.50,133.72 483.70,131.86 483.90,129.05 484.10,126.36 484.30,124.29 484.50,122.05 484.70,119.84 484.90,117.88 485.10,115.86 485.30,114.09 485.50,113.08 485.70,112.65 485.90,112.34 486.10,112.04 486.30,111.84 486.50,112.42 486.70,113.77 486.90,115.34 487.10,116.77 487.30,118.49 487.50,119.79 487.70,119.85 487.90,118.88 488.10,117.40 488.30,115.89 488.50,114.83 488.70,114.14 488.90,113.49 489.10,112.94 489.30,112.57 489.50,112.42 489.70,112.73 489.90,113.50 490.10,114.52 490.30,115.56 490.50,116.49 490.70,117.63 490.90,118.83 491.10,119.86 491.30,120.48 491.50,120.49 491.70,119.90 491.90,118.92 492.10,117.71 492.30,116.48 492.50,115.41 492.70,114.44 492.90,113.44 493.10,112.45 493.30,111.52 493.50,110.71 493.70,110.04 493.90,109.45 494.10,108.91 494.30,108.41 494.50,107.96 494.70,107.55 494.90,107.16 495.10,106.80 495.30,106.45 495.50,106.13 495.70,105.82 495.90,105.54 496.10,105.29 496.30,105.06 496.50,104.87 496.70,104.71 496.90,104.57 497.10,104.45 497.30,104.32 497.50,104.19 497.70,104.03 497.90,103.84 498.10,103.61 498.30,103.27 498.50,102.78 498.70,102.17 498.90,101.49 499.10,100.78 499.30,100.07 499.50,99.40 499.70,98.82 499.90,98.33 500.10,97.85 500.30,97.38 500.50,96.92 500.70,96.48 500.90,96.08 501.10,95.72 501.30,95.41 501.50,95.17 501.70,94.99 501.90,94.85 502.10,94.74 502.30,94.64 502.50,94.55 502.70,94.47 502.90,94.38 503.10,94.28 503.30,94.17 503.50,94.03 503.70,93.87 503.90,93.69 504.10,93.50 504.30,93.30 504.50,93.09 504.70,92.87 504.90,92.66 505.10,92.46 505.30,92.27 505.50,92.09 505.70,91.93 505.90,91.78 506.10,91.62 506.30,91.45 506.50,91.29 506.70,91.13 506.90,90.98 507.10,90.84 507.30,90.72 507.50,90.62 507.70,90.54 507.90,90.49 508.10,90.47 508.30,90.50 508.50,90.59 508.70,90.72 508.90,90.89 509.10,91.09 509.30,91.31 509.50,91.55 509.70,91.79 509.90,92.02 510.10,92.26 510.30,92.53 510.50,92.85 510.70,93.25 510.90,93.76 511.10,94.64 511.30,96.75 511.50,98.65 511.70,98.68 511.90,96.97 512.10,95.12 512.30,94.45 512.50,94.09 512.70,93.80 512.90,93.57 513.10,93.41 513.30,93.33 513.50,93.33 513.70,93.42 513.90,93.57 514.10,93.76 514.30,93.98 514.50,94.19 514.70,94.39 514.90,94.54 515.10,94.62 515.30,94.63 515.50,94.58 515.70,94.50 515.90,94.41 516.10,94.30 516.30,94.20 516.50,94.11 516.70,94.05 516.90,94.02 517.10,94.04 517.30,94.10 517.50,94.19 517.70,94.31 517.90,94.45 518.10,94.61 518.30,94.79 518.50,94.97 518.70,95.15 518.90,95.33 519.10,95.51 519.30,95.67 519.50,95.82 519.70,95.95 519.90,96.05 520.10,96.13 520.30,96.22 520.50,96.30 520.70,96.38 520.90,96.46 521.10,96.54 521.30,96.60 521.50,96.66 521.70,96.70 521.90,96.73 522.10,96.75 522.30,96.75 522.50,96.73 522.70,96.70 522.90,96.66 523.10,96.61 523.30,96.55 523.50,96.48 523.70,96.41 523.90,96.33 524.10,96.24 524.30,96.15 524.50,96.06 524.70,95.97 524.90,95.85 525.10,95.70 525.30,95.53 525.50,95.34 525.70,95.14 525.90,94.94 526.10,94.73 526.30,94.54 526.50,94.35 526.70,94.18 526.90,94.03 527.10,93.90 527.30,93.78 527.50,93.67 527.70,93.56 527.90,93.45 528.10,93.35 528.30,93.26 528.50,93.17 528.70,93.09 528.90,93.02 529.10,92.96 529.30,92.90 529.50,92.85 529.70,92.79 529.90,92.74 530.10,92.69 530.30,92.65 530.50,92.61 530.70,92.57 530.90,92.54 531.10,92.52 531.30,92.50" fill="none" stroke="#ff6464" stroke-width="0.92" stroke-linejoin="round"/>
<polyline points="277.30,69.30 277.50,69.30 277.70,69.30 277.90,69.30 278.10,69.30 278.30,69.31 278.50,69.31 278.70,69.31 278.90,69.31 279.10,69.31 279.30,69.31 279.50,69.31 279.70,69.31 279.90,69.31 280.10,69.31 280.30,69.31 280.50,69.31 280.70,69.32 280.90,69.32 281.10,69.32 281.30,69.32 281.50,69.32 281.70,69.32 281.90,69.32 282.10,69.32 282.30,69.32 282.50,69.32 282.70,69.32 282.90,69.32 283.10,69.33 283.30,69.33 283.50,69.33 283.70,69.33 283.90,69.33 284.10,69.33 284.30,69.33 284.50,69.33 284.70,69.33 284.90,69.33 285.10,69.33 285.30,69.33 285.50,69.34 285.70,69.34 285.90,69.34 286.10,69.34 286.30,69.34 286.50,69.34 286.70,69.34 286.90,69.34 287.10,69.34 287.30,69.34 287.50,69.34 287.70,69.34 287.90,69.35 288.10,69.35 288.30,69.35 288.50,69.35 288.70,69.35 288.90,69.35 289.10,69.35 289.30,69.35 289.50,69.35 289.70,69.35 289.90,69.35 290.10,69.36 290.30,69.36 290.50,69.36 290.70,69.36 290.90,69.36 291.10,69.36 291.30,69.36 291.50,69.37 291.70,69.37 291.90,69.37 292.10,69.37 292.30,69.38 292.50,69.38 292.70,69.38 292.90,69.38 293.10,69.39 293.30,69.39 293.50,69.39 293.70,69.40 293.90,69.40 294.10,69.40 294.30,69.41 294.50,69.41 294.70,69.42 294.90,69.42 295.10,69.43 295.30,69.43 295.50,69.44 295.70,69.44 295.90,69.44 296.10,69.45 296.30,69.46 296.50,69.46 296.70,69.47 296.90,69.47 297.10,69.48 297.30,69.48 297.50,69.49 297.70,69.50 297.90,69.50 298.10,69.51 298.30,69.51 298.50,69.52 298.70,69.53 298.90,69.53 299.10,69.54 299.30,69.55 299.50,69.56 299.70,69.56 299.90,69.57 300.10,69.58 300.30,69.58 300.50,69.59 300.70,69.60 300.90,69.61 301.10,69.62 301.30,69.63 301.50,69.64 301.70,69.66 301.90,69.68 302.10,69.69 302.30,69.71 302.50,69.74 302.70,69.76 302.90,69.78 303.10,69.81 303.30,69.84 303.50,69.86 303.70,69.89 303.90,69.92 304.10,69.95 304.30,69.98 304.50,70.01 304.70,70.04 304.90,70.08 305.10,70.11 305.30,70.14 305.50,70.18 305.70,70.21 305.90,70.24 306.10,70.27 306.30,70.31 306.50,70.34 306.70,70.37 306.90,70.41 307.10,70.45 307.30,70.48 307.50,70.52 307.70,70.56 307.90,70.60 308.10,70.65 308.30,70.69 308.50,70.73 308.70,70.78 308.90,70.82 309.10,70.87 309.30,70.92 309.50,70.96 309.70,71.01 309.90,71.06 310.10,71.11 310.30,71.16 310.50,71.21 310.70,71.26 310.90,71.31 311.10,71.37 311.30,71.42 311.50,71.47 311.70,71.53 311.90,71.58 312.10,71.63 312.30,71.69 312.50,71.74 312.70,71.80 312.90,71.85 313.10,71.91 313.30,71.96 313.50,72.02 313.70,72.08 313.90,72.14 314.10,72.21 314.30,72.27 314.50,72.34 314.70,72.41 314.90,72.48 315.10,72.55 315.30,72.63 315.50,72.71 315.70,72.80 315.90,72.89 316.10,72.98 316.30,73.08 316.50,73.19 316.70,73.30 316.90,73.43 317.10,73.56 317.30,73.70 317.50,73.84 317.70,73.99 317.90,74.15 318.10,74.32 318.30,74.49 318.50,74.66 318.70,74.85 318.90,75.04 319.10,75.26 319.30,75.50 319.50,75.76 319.70,76.02 319.90,76.30 320.10,76.58 320.30,76.87 320.50,77.15 320.70,77.44 320.90,77.72 321.10,78.02 321.30,78.35 321.50,78.68 321.70,79.01 321.90,79.33 322.10,79.63 322.30,79.90 322.50,80.14 322.70,80.33 322.90,80.52 323.10,80.70 323.30,80.87 323.50,81.02 323.70,81.13 323.90,81.18 324.10,81.19 324.30,81.18 324.50,81.16 324.70,81.14 324.90,81.10 325.10,81.06 325.30,81.02 325.50,80.96 325.70,80.86 325.90,80.71 326.10,80.53 326.30,80.32 326.50,80.10 326.70,79.88 326.90,79.67 327.10,79.43 327.30,79.18 327.50,78.91 327.70,78.63 327.90,78.35 328.10,78.07 328.30,77.80 328.50,77.55 328.70,77.29 328.90,77.02 329.10,76.75 329.30,76.49 329.50,76.22 329.70,75.95 329.90,75.70 330.10,75.45 330.30,75.21 330.50,74.99 330.70,74.78 330.90,74.59 331.10,74.42 331.30,74.27 331.50,74.12 331.70,73.98 331.90,73.84 332.10,73.70 332.30,73.57 332.50,73.45 332.70,73.33 332.90,73.21 333.10,73.10 333.30,72.99 333.50,72.89 333.70,72.78 333.90,72.69 334.10,72.59 334.30,72.50 334.50,72.40 334.70,72.32 334.90,72.23 335.10,72.14 335.30,72.06 335.50,71.98 335.70,71.89 335.90,71.80 336.10,71.71 336.30,71.62 336.50,71.53 336.70,71.45 336.90,71.36 337.10,71.28 337.30,71.19 337.50,71.12 337.70,71.05 337.90,70.98 338.10,70.92 338.30,70.86 338.50,70.82 338.70,70.78 338.90,70.75 339.10,70.73 339.30,70.72 339.50,70.72 339.70,70.72 339.90,70.72 340.10,70.72 340.30,70.72 340.50,70.72 340.70,70.72 340.90,70.72 341.10,70.72 341.30,70.73 341.50,70.73 341.70,70.73 341.90,70.73 342.10,70.73 342.30,70.73 342.50,70.73 342.70,70.73 342.90,70.73 343.10,70.73 343.30,70.73 343.50,70.74 343.70,70.75 343.90,70.78 344.10,70.82 344.30,70.88 344.50,70.96 344.70,71.04 344.90,71.13 345.10,71.23 345.30,71.34 345.50,71.44 345.70,71.55 345.90,71.65 346.10,71.75 346.30,71.84 346.50,71.94 346.70,72.05 346.90,72.16 347.10,72.29 347.30,72.44 347.50,72.60 347.70,72.79 347.90,73.05 348.10,73.39 348.30,73.81 348.50,74.29 348.70,74.82 348.90,75.38 349.10,75.96 349.30,76.53 349.50,77.09 349.70,77.67 349.90,78.28 350.10,78.94 350.30,79.64 350.50,80.41 350.70,81.27 350.90,82.28 351.10,83.40 351.30,84.61 351.50,85.86 351.70,87.22 351.90,88.70 352.10,90.25 352.30,91.81 352.50,93.31 352.70,94.78 352.90,96.48 353.10,98.20 353.30,99.64 353.50,100.51 353.70,100.58 353.90,100.26 354.10,99.73 354.30,99.09 354.50,98.46 354.70,97.78 354.90,96.98 355.10,96.17 355.30,95.47 355.50,94.89 355.70,94.37 355.90,93.88 356.10,93.40 356.30,92.90 356.50,92.35 356.70,91.71 356.90,91.01 357.10,90.29 357.30,89.58 357.50,88.91 357.70,88.30 357.90,87.62 358.10,86.98 358.30,86.49 358.50,86.30 358.70,86.60 358.90,87.26 359.10,87.91 359.30,88.21 359.50,87.89 359.70,87.10 359.90,86.08 360.10,85.08 360.30,84.13 360.50,83.07 360.70,81.87 360.90,80.45 361.10,79.10 361.30,77.92 361.50,76.80 361.70,75.81 361.90,74.95 362.10,74.16 362.30,73.48 362.50,72.99 362.70,72.65 362.90,72.37 363.10,72.15 363.30,71.97 363.50,71.83 363.70,71.69 363.90,71.57 364.10,71.47 364.30,71.40 364.50,71.37 364.70,71.35 364.90,71.34 365.10,71.33 365.30,71.31 365.50,71.31 365.70,71.30 365.90,71.29 366.10,71.28 366.30,71.28 366.50,71.27 366.70,71.27 366.90,71.26 367.10,71.26 367.30,71.26 367.50,71.25 367.70,71.25 367.90,71.25 368.10,71.24 368.30,71.24 368.50,71.24 368.70,71.24 368.90,71.24 369.10,71.23 369.30,71.23 369.50,71.23 369.70,71.23 369.90,71.23 370.10,71.23 370.30,71.23 370.50,71.23 370.70,71.23 370.90,71.23 371.10,71.23 371.30,71.22 371.50,71.22 371.70,71.22 371.90,71.22 372.10,71.22 372.30,71.22 372.50,71.22 372.70,71.22 372.90,71.22 373.10,71.22 373.30,71.22 373.50,71.22 373.70,71.21 373.90,71.21 374.10,71.21 374.30,71.21 374.50,71.21 374.70,71.20 374.90,71.20 375.10,71.19 375.30,71.19 375.50,71.18 375.70,71.18 375.90,71.17 376.10,71.16 376.30,71.16 376.50,71.15 376.70,71.14 376.90,71.13 377.10,71.12 377.30,71.11 377.50,71.11 377.70,71.10 377.90,71.09 378.10,71.08 378.30,71.07 378.50,71.05 378.70,71.04 378.90,71.03 379.10,71.02 379.30,71.01 379.50,71.00 379.70,70.99 379.90,70.98 380.10,70.97 380.30,70.96 380.50,70.95 380.70,70.94 380.90,70.93 381.10,70.92 381.30,70.92 381.50,70.91 381.70,70.90 381.90,70.89 382.10,70.88 382.30,70.88 382.50,70.87 382.70,70.86 382.90,70.86 383.10,70.85 383.30,70.84 383.50,70.84 383.70,70.83 383.90,70.83 384.10,70.82 384.30,70.81 384.50,70.81 384.70,70.80 384.90,70.79 385.10,70.79 385.30,70.78 385.50,70.78 385.70,70.77 385.90,70.76 386.10,70.76 386.30,70.75 386.50,70.75 386.70,70.74 386.90,70.73 387.10,70.73 387.30,70.72 387.50,70.71 387.70,70.71 387.90,70.70 388.10,70.69 388.30,70.69 388.50,70.68 388.70,70.67 388.90,70.66 389.10,70.65 389.30,70.65 389.50,70.64 389.70,70.63 389.90,70.62 390.10,70.61 390.30,70.60 390.50,70.59 390.70,70.59 390.90,70.58 391.10,70.57 391.30,70.56 391.50,70.55 391.70,70.54 391.90,70.53 392.10,70.52 392.30,70.51 392.50,70.50 392.70,70.49 392.90,70.48 393.10,70.47 393.30,70.46 393.50,70.44 393.70,70.43 393.90,70.41 394.10,70.38 394.30,70.34 394.50,70.29 394.70,70.23 394.90,70.14 395.10,70.01 395.30,69.82 395.50,69.62 395.70,69.42 395.90,69.24 396.10,69.08 396.30,68.96 396.50,68.88 396.70,68.91 396.90,68.97 397.10,69.06 397.30,69.17 397.50,69.27 397.70,69.36 397.90,69.44 398.10,69.49 398.30,69.53 398.50,69.55 398.70,69.55 398.90,69.55 399.10,69.54 399.30,69.53 399.50,69.51 399.70,69.49 399.90,69.47 400.10,69.45 400.30,69.43 400.50,69.42 400.70,69.40 400.90,69.38 401.10,69.36 401.30,69.34 401.50,69.33 401.70,69.31 401.90,69.30 402.10,69.28 402.30,69.27 402.50,69.25 402.70,69.24 402.90,69.23 403.10,69.22 403.30,69.21 403.50,69.20 403.70,69.19 403.90,69.18 404.10,69.18 404.30,69.17 404.50,69.16 404.70,69.15 404.90,69.15 405.10,69.14 405.30,69.13 405.50,69.13 405.70,69.12 405.90,69.11 406.10,69.10 406.30,69.10 406.50,69.09 406.70,69.09 406.90,69.08 407.10,69.07 407.30,69.07 407.50,69.06 407.70,69.06 407.90,69.05 408.10,69.05 408.30,69.05 408.50,69.04 408.70,69.04 408.90,69.03 409.10,69.03 409.30,69.03 409.50,69.03 409.70,69.02 409.90,69.02 410.10,69.02 410.30,69.02 410.50,69.02 410.70,69.02 410.90,69.02 411.10,69.02 411.30,69.02 411.50,69.02 411.70,69.03 411.90,69.03 412.10,69.03 412.30,69.03 412.50,69.03 412.70,69.03 412.90,69.03 413.10,69.03 413.30,69.03 413.50,69.03 413.70,69.03 413.90,69.03 414.10,69.04 414.30,69.04 414.50,69.04 414.70,69.04 414.90,69.04 415.10,69.04 415.30,69.04 415.50,69.04 415.70,69.04 415.90,69.04 416.10,69.04 416.30,69.04 416.50,69.05 416.70,69.05 416.90,69.05 417.10,69.05 417.30,69.05 417.50,69.05 417.70,69.05 417.90,69.05 418.10,69.05 418.30,69.05 418.50,69.05 418.70,69.05 418.90,69.06 419.10,69.06 419.30,69.06 419.50,69.06 419.70,69.06 419.90,69.06 420.10,69.06 420.30,69.06 420.50,69.06 420.70,69.06 420.90,69.06 421.10,69.06 421.30,69.06 421.50,69.05 421.70,69.05 421.90,69.05 422.10,69.06 422.30,69.07 422.50,69.08 422.70,69.09 422.90,69.09 423.10,69.10 423.30,69.11 423.50,69.12 423.70,69.13 423.90,69.14 424.10,69.15 424.30,69.16 424.50,69.17 424.70,69.18 424.90,69.19 425.10,69.20 425.30,69.21 425.50,69.22 425.70,69.22 425.90,69.23 426.10,69.24 426.30,69.25 426.50,69.26 426.70,69.27 426.90,69.28 427.10,69.29 427.30,69.30 427.50,69.31 427.70,69.32 427.90,69.33 428.10,69.34 428.30,69.35 428.50,69.35 428.70,69.36 428.90,69.37 429.10,69.38 429.30,69.39 429.50,69.40 429.70,69.41 429.90,69.42 430.10,69.43 430.30,69.45 430.50,69.46 430.70,69.48 430.90,69.51 431.10,69.53 431.30,69.56 431.50,69.59 431.70,69.62 431.90,69.66 432.10,69.69 432.30,69.72 432.50,69.74 432.70,69.78 432.90,69.81 433.10,69.84 433.30,69.88 433.50,69.92 433.70,69.95 433.90,69.99 434.10,70.03 434.30,70.07 434.50,70.12 434.70,70.18 434.90,70.25 435.10,70.33 435.30,70.42 435.50,70.52 435.70,70.62 435.90,70.74 436.10,70.86 436.30,70.98 436.50,71.13 436.70,71.31 436.90,71.53 437.10,71.78 437.30,72.05 437.50,72.34 437.70,72.69 437.90,73.11 438.10,73.61 438.30,74.19 438.50,74.82 438.70,75.52 438.90,76.35 439.10,77.36 439.30,78.69 439.50,80.68 439.70,83.05 439.90,85.47 440.10,88.08 440.30,91.02 440.50,94.53 440.70,98.61 440.90,102.59 441.10,106.52 441.30,110.52 441.50,115.48 441.70,118.14 441.90,117.52 442.10,116.90 442.30,115.64 442.50,114.39 442.70,113.29 442.90,112.19 443.10,111.11 443.30,110.04 443.50,108.98 443.70,107.92 443.90,106.94 444.10,105.96 444.30,105.02 444.50,104.08 444.70,102.05 444.90,100.19 445.10,98.50 445.30,96.90 445.50,95.29 445.70,93.66 445.90,91.98 446.10,90.16 446.30,88.15 446.50,86.13 446.70,84.23 446.90,82.41 447.10,80.70 447.30,79.24 447.50,78.01 447.70,76.74 447.90,75.62 448.10,74.71 448.30,74.04 448.50,73.44 448.70,72.91 448.90,72.46 449.10,72.12 449.30,71.89 449.50,71.72 449.70,71.57 449.90,71.43 450.10,71.32 450.30,71.22 450.50,71.15 450.70,71.10 450.90,71.08 451.10,71.11 451.30,71.18 451.50,71.28 451.70,71.41 451.90,71.57 452.10,71.73 452.30,71.89 452.50,72.07 452.70,72.27 452.90,72.52 453.10,72.80 453.30,73.11 453.50,73.48 453.70,73.94 453.90,74.47 454.10,75.10 454.30,75.83 454.50,76.78 454.70,78.02 454.90,79.48 455.10,81.10 455.30,82.97 455.50,85.75 455.70,88.90 455.90,91.71 456.10,93.45 456.30,93.61 456.50,92.91 456.70,91.72 456.90,90.27 457.10,88.76 457.30,87.31 457.50,85.52 457.70,83.59 457.90,81.83 458.10,80.57 458.30,79.68 458.50,78.83 458.70,78.07 458.90,77.44 459.10,76.98 459.30,76.73 459.50,76.79 459.70,77.47 459.90,78.59 460.10,79.93 460.30,81.25 460.50,82.87 460.70,84.92 460.90,86.84 461.10,88.07 461.30,88.16 461.50,87.55 461.70,86.58 461.90,85.52 462.10,84.64 462.30,83.92 462.50,83.21 462.70,82.56 462.90,82.00 463.10,81.58 463.30,81.17 463.50,80.78 463.70,80.41 463.90,80.08 464.10,79.80 464.30,79.58 464.50,79.44 464.70,79.39 464.90,79.46 465.10,79.63 465.30,79.87 465.50,80.14 465.70,80.41 465.90,80.70 466.10,81.05 466.30,81.41 466.50,81.77 466.70,82.17 466.90,82.62 467.10,82.98 467.30,83.13 467.50,83.07 467.70,82.93 467.90,82.77 468.10,82.64 468.30,82.58 468.50,82.86 468.70,83.54 468.90,84.39 469.10,85.19 469.30,85.70 469.50,85.75 469.70,85.64 469.90,85.46 470.10,85.26 470.30,85.08 470.50,84.97 470.70,84.97 470.90,85.11 471.10,85.37 471.30,85.69 471.50,86.05 471.70,86.41 471.90,86.75 472.10,87.12 472.30,87.52 472.50,87.94 472.70,88.36 472.90,88.77 473.10,89.13 473.30,89.45 473.50,89.76 473.70,90.07 473.90,90.40 474.10,90.78 474.30,91.23 474.50,91.78 474.70,92.41 474.90,93.09 475.10,93.80 475.30,94.60 475.50,95.46 475.70,96.31 475.90,97.10 476.10,97.78 476.30,98.38 476.50,98.96 476.70,99.57 476.90,100.27 477.10,101.11 477.30,102.58 477.50,104.34 477.70,105.19 477.90,104.67 478.10,103.49 478.30,102.26 478.50,101.04 478.70,99.74 478.90,98.72 479.10,97.95 479.30,97.21 479.50,96.55 479.70,96.01 479.90,95.65 480.10,95.52 480.30,95.57 480.50,95.71 480.70,95.91 480.90,96.17 481.10,96.45 481.30,96.74 481.50,97.10 481.70,97.55 481.90,98.07 482.10,98.65 482.30,99.24 482.50,99.87 482.70,100.73 482.90,101.39 483.10,101.40 483.30,100.75 483.50,99.74 483.70,98.51 483.90,96.60 484.10,94.42 484.30,92.41 484.50,90.39 484.70,88.47 484.90,86.80 485.10,85.16 485.30,83.75 485.50,82.86 485.70,82.33 485.90,81.90 486.10,81.60 486.30,81.49 486.50,81.82 486.70,82.59 486.90,83.48 487.10,84.28 487.30,85.26 487.50,86.00 487.70,86.03 487.90,85.48 488.10,84.64 488.30,83.79 488.50,83.19 488.70,82.80 488.90,82.43 489.10,82.12 489.30,81.90 489.50,81.82 489.70,81.99 489.90,82.43 490.10,83.01 490.30,83.60 490.50,84.13 490.70,84.77 490.90,85.45 491.10,86.03 491.30,86.39 491.50,86.39 491.70,86.06 491.90,85.50 492.10,84.82 492.30,84.12 492.50,83.51 492.70,82.96 492.90,82.40 493.10,81.83 493.30,81.31 493.50,80.85 493.70,80.47 493.90,80.13 494.10,79.83 494.30,79.55 494.50,79.29 494.70,79.06 494.90,78.84 495.10,78.63 495.30,78.44 495.50,78.25 495.70,78.08 495.90,77.92 496.10,77.78 496.30,77.65 496.50,77.54 496.70,77.45 496.90,77.37 497.10,77.30 497.30,77.23 497.50,77.15 497.70,77.06 497.90,76.96 498.10,76.83 498.30,76.63 498.50,76.35 498.70,76.01 498.90,75.63 499.10,75.22 499.30,74.82 499.50,74.44 499.70,74.11 499.90,73.83 500.10,73.56 500.30,73.29 500.50,73.03 500.70,72.78 500.90,72.55 501.10,72.35 501.30,72.18 501.50,72.04 501.70,71.94 501.90,71.86 502.10,71.80 502.30,71.74 502.50,71.69 502.70,71.64 502.90,71.59 503.10,71.54 503.30,71.47 503.50,71.40 503.70,71.30 503.90,71.20 504.10,71.09 504.30,70.98 504.50,70.86 504.70,70.74 504.90,70.62 505.10,70.50 505.30,70.39 505.50,70.29 505.70,70.20 505.90,70.12 506.10,70.03 506.30,69.93 506.50,69.84 506.70,69.75 506.90,69.67 507.10,69.59 507.30,69.52 507.50,69.46 507.70,69.42 507.90,69.39 508.10,69.38 508.30,69.40 508.50,69.44 508.70,69.52 508.90,69.61 509.10,69.73 509.30,69.85 509.50,69.99 509.70,70.12 509.90,70.25 510.10,70.39 510.30,70.54 510.50,70.72 510.70,70.95 510.90,71.24 511.10,71.74 511.30,72.94 511.50,74.01 511.70,74.03 511.90,73.06 512.10,72.01 512.30,71.63 512.50,71.43 512.70,71.26 512.90,71.13 513.10,71.04 513.30,71.00 513.50,71.00 513.70,71.05 513.90,71.13 514.10,71.24 514.30,71.36 514.50,71.48 514.70,71.59 514.90,71.68 515.10,71.73 515.30,71.73 515.50,71.70 515.70,71.66 515.90,71.60 516.10,71.54 516.30,71.49 516.50,71.44 516.70,71.40 516.90,71.39 517.10,71.40 517.30,71.43 517.50,71.48 517.70,71.55 517.90,71.63 518.10,71.72 518.30,71.82 518.50,71.92 518.70,72.03 518.90,72.13 519.10,72.23 519.30,72.32 519.50,72.41 519.70,72.48 519.90,72.53 520.10,72.58 520.30,72.63 520.50,72.68 520.70,72.72 520.90,72.77 521.10,72.81 521.30,72.85 521.50,72.88 521.70,72.90 521.90,72.92 522.10,72.93 522.30,72.93 522.50,72.92 522.70,72.90 522.90,72.88 523.10,72.85 523.30,72.82 523.50,72.78 523.70,72.74 523.90,72.69 524.10,72.64 524.30,72.59 524.50,72.54 524.70,72.49 524.90,72.42 525.10,72.33 525.30,72.24 525.50,72.13 525.70,72.02 525.90,71.90 526.10,71.79 526.30,71.68 526.50,71.57 526.70,71.47 526.90,71.39 527.10,71.32 527.30,71.25 527.50,71.18 527.70,71.12 527.90,71.06 528.10,71.00 528.30,70.95 528.50,70.90 528.70,70.86 528.90,70.82 529.10,70.78 529.30,70.75 529.50,70.72 529.70,70.69 529.90,70.66 530.10,70.63 530.30,70.60 530.50,70.58 530.70,70.56 530.90,70.54 531.10,70.53 531.30,70.52" fill="none" stroke="#6464ff" stroke-width="0.92" stroke-linejoin="round"/>
<polyline points="277.30,47.30 277.50,47.30 277.70,47.30 277.90,47.30 278.10,47.30 278.30,47.30 278.50,47.31 278.70,47.31 278.90,47.31 279.10,47.31 279.30,47.31 279.50,47.31 279.70,47.31 279.90,47.31 280.10,47.31 280.30,47.31 280.50,47.31 280.70,47.31 280.90,47.31 281.10,47.31 281.30,47.32 281.50,47.32 281.70,47.32 281.90,47.32 282.10,47.32 282.30,47.32 282.50,47.32 282.70,47.32 282.90,47.32 283.10,47.32 283.30,47.32 283.50,47.32 283.70,47.32 283.90,47.32 284.10,47.32 284.30,47.33 284.50,47.33 284.70,47.33 284.90,47.33 285.10,47.33 285.30,47.33 285.50,47.33 285.70,47.33 285.90,47.33 286.10,47.33 286.30,47.33 286.50,47.33 286.70,47.33 286.90,47.33 287.10,47.34 287.30,47.34 287.50,47.34 287.70,47.34 287.90,47.34 288.10,47.34 288.30,47.34 288.50,47.34 288.70,47.34 288.90,47.34 289.10,47.34 289.30,47.34 289.50,47.34 289.70,47.34 289.90,47.35 290.10,47.35 290.30,47.35 290.50,47.35 290.70,47.35 290.90,47.35 291.10,47.35 291.30,47.35 291.50,47.35 291.70,47.36 291.90,47.36 292.10,47.36 292.30,47.36 292.50,47.36 292.70,47.37 292.90,47.37 293.10,47.37 293.30,47.37 293.50,47.38 293.70,47.38 293.90,47.38 294.10,47.39 294.30,47.39 294.50,47.39 294.70,47.40 294.90,47.40 295.10,47.40 295.30,47.41 295.50,47.41 295.70,47.42 295.90,47.42 296.10,47.42 296.30,47.43 296.50,47.43 296.70,47.44 296.90,47.44 297.10,47.45 297.30,47.45 297.50,47.46 297.70,47.46 297.90,47.47 298.10,47.47 298.30,47.48 298.50,47.48 298.70,47.49 298.90,47.49 299.10,47.50 299.30,47.50 299.50,47.51 299.70,47.51 299.90,47.52 300.10,47.53 300.30,47.53 300.50,47.54 300.70,47.55 300.90,47.55 301.10,47.56 301.30,47.57 301.50,47.58 301.70,47.59 301.90,47.61 302.10,47.62 302.30,47.64 302.50,47.66 302.70,47.67 302.90,47.69 303.10,47.71 303.30,47.74 303.50,47.76 303.70,47.78 303.90,47.81 304.10,47.83 304.30,47.85 304.50,47.88 304.70,47.91 304.90,47.93 305.10,47.96 305.30,47.98 305.50,48.01 305.70,48.04 305.90,48.06 306.10,48.09 306.30,48.12 306.50,48.14 306.70,48.17 306.90,48.20 307.10,48.23 307.30,48.26 307.50,48.29 307.70,48.32 307.90,48.36 308.10,48.39 308.30,48.43 308.50,48.46 308.70,48.50 308.90,48.53 309.10,48.57 309.30,48.61 309.50,48.65 309.70,48.69 309.90,48.73 310.10,48.77 310.30,48.81 310.50,48.85 310.70,48.89 310.90,48.93 311.10,48.98 311.30,49.02 311.50,49.06 311.70,49.10 311.90,49.15 312.10,49.19 312.30,49.24 312.50,49.28 312.70,49.32 312.90,49.37 313.10,49.41 313.30,49.46 313.50,49.51 313.70,49.55 313.90,49.60 314.10,49.65 314.30,49.71 314.50,49.76 314.70,49.82 314.90,49.88 315.10,49.94 315.30,50.00 315.50,50.06 315.70,50.13 315.90,50.20 316.10,50.28 316.30,50.36 316.50,50.45 316.70,50.54 316.90,50.64 317.10,50.75 317.30,50.86 317.50,50.98 317.70,51.10 317.90,51.23 318.10,51.36 318.30,51.50 318.50,51.64 318.70,51.79 318.90,51.95 319.10,52.13 319.30,52.32 319.50,52.53 319.70,52.74 319.90,52.97 320.10,53.19 320.30,53.43 320.50,53.66 320.70,53.89 320.90,54.11 321.10,54.36 321.30,54.62 321.50,54.89 321.70,55.16 321.90,55.42 322.10,55.66 322.30,55.88 322.50,56.07 322.70,56.22 322.90,56.38 323.10,56.53 323.30,56.67 323.50,56.78 323.70,56.87 323.90,56.92 324.10,56.92 324.30,56.92 324.50,56.90 324.70,56.88 324.90,56.85 325.10,56.82 325.30,56.78 325.50,56.74 325.70,56.65 325.90,56.53 326.10,56.38 326.30,56.22 326.50,56.04 326.70,55.86 326.90,55.69 327.10,55.50 327.30,55.30 327.50,55.08 327.70,54.85 327.90,54.62 328.10,54.40 328.30,54.18 328.50,53.98 328.70,53.77 328.90,53.55 329.10,53.33 329.30,53.12 329.50,52.90 329.70,52.69 329.90,52.48 330.10,52.28 330.30,52.09 330.50,51.91 330.70,51.74 330.90,51.59 331.10,51.45 331.30,51.32 331.50,51.20 331.70,51.09 331.90,50.97 332.10,50.87 332.30,50.76 332.50,50.66 332.70,50.56 332.90,50.47 333.10,50.38 333.30,50.29 333.50,50.21 333.70,50.12 333.90,50.04 334.10,49.97 334.30,49.89 334.50,49.82 334.70,49.75 334.90,49.68 335.10,49.61 335.30,49.54 335.50,49.47 335.70,49.40 335.90,49.33 336.10,49.26 336.30,49.18 336.50,49.11 336.70,49.04 336.90,48.97 337.10,48.90 337.30,48.84 337.50,48.78 337.70,48.72 337.90,48.66 338.10,48.62 338.30,48.57 338.50,48.53 338.70,48.50 338.90,48.48 339.10,48.46 339.30,48.45 339.50,48.45 339.70,48.45 339.90,48.45 340.10,48.46 340.30,48.46 340.50,48.46 340.70,48.46 340.90,48.46 341.10,48.46 341.30,48.46 341.50,48.46 341.70,48.46 341.90,48.46 342.10,48.46 342.30,48.46 342.50,48.46 342.70,48.46 342.90,48.47 343.10,48.47 343.30,48.47 343.50,48.47 343.70,48.48 343.90,48.50 344.10,48.54 344.30,48.59 344.50,48.65 344.70,48.72 344.90,48.79 345.10,48.87 345.30,48.95 345.50,49.04 345.70,49.12 345.90,49.21 346.10,49.29 346.30,49.36 346.50,49.44 346.70,49.53 346.90,49.62 347.10,49.73 347.30,49.85 347.50,49.98 347.70,50.13 347.90,50.34 348.10,50.62 348.30,50.96 348.50,51.35 348.70,51.77 348.90,52.23 349.10,52.69 349.30,53.15 349.50,53.61 349.70,54.08 349.90,54.57 350.10,55.10 350.30,55.67 350.50,56.30 350.70,56.99 350.90,57.80 351.10,58.71 351.30,59.69 351.50,60.71 351.70,61.80 351.90,63.00 352.10,64.25 352.30,65.51 352.50,66.73 352.70,67.92 352.90,69.29 353.10,70.68 353.30,71.85 353.50,72.55 353.70,72.61 353.90,72.35 354.10,71.92 354.30,71.40 354.50,70.89 354.70,70.34 354.90,69.70 355.10,69.04 355.30,68.47 355.50,68.00 355.70,67.58 355.90,67.19 356.10,66.80 356.30,66.40 356.50,65.95 356.70,65.43 356.90,64.87 357.10,64.29 357.30,63.71 357.50,63.17 357.70,62.68 357.90,62.13 358.10,61.61 358.30,61.21 358.50,61.06 358.70,61.30 358.90,61.83 359.10,62.36 359.30,62.60 359.50,62.34 359.70,61.70 359.90,60.88 360.10,60.08 360.30,59.31 360.50,58.45 360.70,57.48 360.90,56.33 361.10,55.24 361.30,54.28 361.50,53.38 361.70,52.57 361.90,51.88 362.10,51.24 362.30,50.69 362.50,50.29 362.70,50.02 362.90,49.79 363.10,49.61 363.30,49.47 363.50,49.35 363.70,49.24 363.90,49.15 364.10,49.07 364.30,49.01 364.50,48.98 364.70,48.97 364.90,48.96 365.10,48.95 365.30,48.94 365.50,48.93 365.70,48.92 365.90,48.92 366.10,48.91 366.30,48.91 366.50,48.90 366.70,48.90 366.90,48.90 367.10,48.89 367.30,48.89 367.50,48.89 367.70,48.89 367.90,48.88 368.10,48.88 368.30,48.88 368.50,48.88 368.70,48.88 368.90,48.88 369.10,48.87 369.30,48.87 369.50,48.87 369.70,48.87 369.90,48.87 370.10,48.87 370.30,48.87 370.50,48.87 370.70,48.87 370.90,48.87 371.10,48.87 371.30,48.87 371.50,48.87 371.70,48.87 371.90,48.87 372.10,48.86 372.30,48.86 372.50,48.86 372.70,48.86 372.90,48.86 373.10,48.86 373.30,48.86 373.50,48.86 373.70,48.86 373.90,48.86 374.10,48.85 374.30,48.85 374.50,48.85 374.70,48.85 374.90,48.85 375.10,48.84 375.30,48.84 375.50,48.83 375.70,48.83 375.90,48.82 376.10,48.82 376.30,48.81 376.50,48.81 376.70,48.80 376.90,48.79 377.10,48.79 377.30,48.78 377.50,48.77 377.70,48.76 377.90,48.75 378.10,48.75 378.30,48.74 378.50,48.73 378.70,48.72 378.90,48.71 379.10,48.70 379.30,48.70 379.50,48.69 379.70,48.68 379.90,48.67 380.10,48.66 380.30,48.65 380.50,48.65 380.70,48.64 380.90,48.63 381.10,48.62 381.30,48.62 381.50,48.61 381.70,48.60 381.90,48.60 382.10,48.59 382.30,48.59 382.50,48.58 382.70,48.58 382.90,48.57 383.10,48.57 383.30,48.56 383.50,48.55 383.70,48.55 383.90,48.54 384.10,48.54 384.30,48.53 384.50,48.53 384.70,48.52 384.90,48.52 385.10,48.52 385.30,48.51 385.50,48.51 385.70,48.50 385.90,48.50 386.10,48.49 386.30,48.49 386.50,48.48 386.70,48.48 386.90,48.47 387.10,48.47 387.30,48.46 387.50,48.45 387.70,48.45 387.90,48.44 388.10,48.44 388.30,48.43 388.50,48.43 388.70,48.42 388.90,48.41 389.10,48.41 389.30,48.40 389.50,48.39 389.70,48.39 389.90,48.38 390.10,48.37 390.30,48.37 390.50,48.36 390.70,48.35 390.90,48.34 391.10,48.34 391.30,48.33 391.50,48.32 391.70,48.31 391.90,48.31 392.10,48.30 392.30,48.29 392.50,48.28 392.70,48.27 392.90,48.27 393.10,48.26 393.30,48.25 393.50,48.24 393.70,48.23 393.90,48.22 394.10,48.21 394.30,48.20 394.50,48.19 394.70,48.19 394.90,48.18 395.10,48.17 395.30,48.16 395.50,48.15 395.70,48.14 395.90,48.13 396.10,48.12 396.30,48.11 396.50,48.10 396.70,48.09 396.90,48.07 397.10,48.06 397.30,48.05 397.50,48.04 397.70,48.02 397.90,48.01 398.10,47.99 398.30,47.98 398.50,47.97 398.70,47.95 398.90,47.93 399.10,47.92 399.30,47.90 399.50,47.89 399.70,47.87 399.90,47.86 400.10,47.84 400.30,47.83 400.50,47.81 400.70,47.80 400.90,47.78 401.10,47.77 401.30,47.75 401.50,47.74 401.70,47.73 401.90,47.71 402.10,47.70 402.30,47.69 402.50,47.68 402.70,47.67 402.90,47.66 403.10,47.65 403.30,47.64 403.50,47.64 403.70,47.63 403.90,47.62 404.10,47.62 404.30,47.61 404.50,47.61 404.70,47.60 404.90,47.59 405.10,47.59 405.30,47.58 405.50,47.58 405.70,47.57 405.90,47.57 406.10,47.56 406.30,47.55 406.50,47.55 406.70,47.54 406.90,47.54 407.10,47.54 407.30,47.53 407.50,47.53 407.70,47.52 407.90,47.52 408.10,47.52 408.30,47.51 408.50,47.51 408.70,47.51 408.90,47.50 409.10,47.50 409.30,47.50 409.50,47.50 409.70,47.50 409.90,47.49 410.10,47.49 410.30,47.49 410.50,47.49 410.70,47.49 410.90,47.49 411.10,47.49 411.30,47.49 411.50,47.50 411.70,47.50 411.90,47.50 412.10,47.50 412.30,47.50 412.50,47.50 412.70,47.50 412.90,47.50 413.10,47.50 413.30,47.50 413.50,47.50 413.70,47.50 413.90,47.50 414.10,47.50 414.30,47.51 414.50,47.51 414.70,47.51 414.90,47.51 415.10,47.51 415.30,47.51 415.50,47.51 415.70,47.51 415.90,47.51 416.10,47.51 416.30,47.51 416.50,47.51 416.70,47.51 416.90,47.51 417.10,47.51 417.30,47.52 417.50,47.52 417.70,47.52 417.90,47.52 418.10,47.52 418.30,47.52 418.50,47.52 418.70,47.52 418.90,47.52 419.10,47.52 419.30,47.52 419.50,47.52 419.70,47.52 419.90,47.52 420.10,47.52 420.30,47.52 420.50,47.52 420.70,47.52 420.90,47.52 421.10,47.52 421.30,47.52 421.50,47.52 421.70,47.52 421.90,47.52 422.10,47.52 422.30,47.52 422.50,47.52 422.70,47.52 422.90,47.52 423.10,47.52 423.30,47.52 423.50,47.52 423.70,47.52 423.90,47.52 424.10,47.52 424.30,47.52 424.50,47.52 424.70,47.52 424.90,47.52 425.10,47.52 425.30,47.52 425.50,47.52 425.70,47.52 425.90,47.52 426.10,47.52 426.30,47.52 426.50,47.52 426.70,47.52 426.90,47.52 427.10,47.52 427.30,47.52 427.50,47.52 427.70,47.52 427.90,47.52 428.10,47.52 428.30,47.52 428.50,47.52 428.70,47.52 428.90,47.52 429.10,47.52 429.30,47.52 429.50,47.52 429.70,47.52 429.90,47.52 430.10,47.52 430.30,47.52 430.50,47.53 430.70,47.54 430.90,47.55 431.10,47.56 431.30,47.58 431.50,47.59 431.70,47.61 431.90,47.63 432.10,47.65 432.30,47.68 432.50,47.70 432.70,47.73 432.90,47.75 433.10,47.78 433.30,47.81 433.50,47.84 433.70,47.87 433.90,47.90 434.10,47.94 434.30,47.97 434.50,48.01 434.70,48.06 434.90,48.12 435.10,48.18 435.30,48.25 435.50,48.33 435.70,48.42 435.90,48.51 436.10,48.61 436.30,48.72 436.50,48.85 436.70,49.01 436.90,49.20 437.10,49.42 437.30,49.66 437.50,49.93 437.70,50.25 437.90,50.63 438.10,51.08 438.30,51.58 438.50,52.13 438.70,52.75 438.90,53.47 439.10,54.36 439.30,55.52 439.50,57.26 439.70,59.32 439.90,61.44 440.10,63.72 440.30,66.28 440.50,69.35 440.70,72.91 440.90,76.39 441.10,79.82 441.30,83.31 441.50,87.64 441.70,89.97 441.90,89.58 442.10,89.19 442.30,88.72 442.50,87.94 442.70,87.16 442.90,86.41 443.10,85.73 443.30,85.04 443.50,84.37 443.70,83.70 443.90,83.03 444.10,82.37 444.30,81.71 444.50,81.05 444.70,79.04 444.90,77.13 445.10,75.34 445.30,73.72 445.50,72.24 445.70,70.80 445.90,69.32 446.10,67.83 446.30,66.23 446.50,64.41 446.70,62.49 446.90,60.69 447.10,59.00 447.30,57.41 447.50,56.02 447.70,54.70 447.90,53.54 448.10,52.53 448.30,51.74 448.50,51.15 448.70,50.63 448.90,50.18 449.10,49.81 449.30,49.55 449.50,49.39 449.70,49.26 449.90,49.14 450.10,49.03 450.30,48.95 450.50,48.88 450.70,48.84 450.90,48.82 451.10,48.84 451.30,48.89 451.50,48.98 451.70,49.09 451.90,49.21 452.10,49.34 452.30,49.48 452.50,49.62 452.70,49.79 452.90,49.98 453.10,50.21 453.30,50.46 453.50,50.77 453.70,51.13 453.90,51.57 454.10,52.07 454.30,52.66 454.50,53.43 454.70,54.43 454.90,55.62 455.10,56.93 455.30,58.44 455.50,60.69 455.70,63.24 455.90,65.51 456.10,66.92 456.30,67.05 456.50,66.48 456.70,65.53 456.90,64.35 457.10,63.13 457.30,61.96 457.50,60.51 457.70,58.95 457.90,57.53 458.10,56.51 458.30,55.79 458.50,55.10 458.70,54.49 458.90,53.98 459.10,53.60 459.30,53.40 459.50,53.45 459.70,54.00 459.90,54.91 460.10,55.99 460.30,57.06 460.50,58.37 460.70,60.03 460.90,61.59 461.10,62.58 461.30,62.65 461.50,62.16 461.70,61.38 461.90,60.52 462.10,59.81 462.30,59.23 462.50,58.65 462.70,58.12 462.90,57.68 463.10,57.33 463.30,57.00 463.50,56.69 463.70,56.39 463.90,56.12 464.10,55.90 464.30,55.72 464.50,55.61 464.70,55.57 464.90,55.62 465.10,55.76 465.30,55.95 465.50,56.17 465.70,56.39 465.90,56.63 466.10,56.91 466.30,57.21 466.50,57.49 466.70,57.82 466.90,58.18 467.10,58.47 467.30,58.59 467.50,58.55 467.70,58.44 467.90,58.31 468.10,58.20 468.30,58.15 468.50,58.38 468.70,58.93 468.90,59.62 469.10,60.26 469.30,60.68 469.50,60.72 469.70,60.63 469.90,60.49 470.10,60.32 470.30,60.18 470.50,60.09 470.70,60.09 470.90,60.21 471.10,60.41 471.30,60.68 471.50,60.97 471.70,61.26 471.90,61.53 472.10,61.83 472.30,62.16 472.50,62.50 472.70,62.84 472.90,63.17 473.10,63.46 473.30,63.72 473.50,63.97 473.70,64.22 473.90,64.49 474.10,64.79 474.30,65.16 474.50,65.61 474.70,66.12 474.90,66.66 475.10,67.24 475.30,67.89 475.50,68.59 475.70,69.28 475.90,69.91 476.10,70.46 476.30,70.95 476.50,71.42 476.70,71.91 476.90,72.48 477.10,73.16 477.30,74.35 477.50,75.77 477.70,76.46 477.90,76.04 478.10,75.09 478.30,74.09 478.50,73.10 478.70,72.06 478.90,71.23 479.10,70.61 479.30,70.01 479.50,69.47 479.70,69.04 479.90,68.75 480.10,68.65 480.30,68.69 480.50,68.80 480.70,68.96 480.90,69.17 481.10,69.40 481.30,69.63 481.50,69.92 481.70,70.29 481.90,70.71 482.10,71.18 482.30,71.65 482.50,72.17 482.70,72.86 482.90,73.40 483.10,73.41 483.30,72.88 483.50,72.06 483.70,71.07 483.90,69.53 484.10,67.76 484.30,66.14 484.50,64.50 484.70,62.95 484.90,61.60 485.10,60.28 485.30,59.14 485.50,58.41 485.70,57.99 485.90,57.64 486.10,57.40 486.30,57.31 486.50,57.57 486.70,58.19 486.90,58.92 487.10,59.57 487.30,60.36 487.50,60.95 487.70,60.98 487.90,60.54 488.10,59.86 488.30,59.17 488.50,58.68 488.70,58.37 488.90,58.07 489.10,57.82 489.30,57.65 489.50,57.58 489.70,57.72 489.90,58.08 490.10,58.54 490.30,59.02 490.50,59.45 490.70,59.97 490.90,60.52 491.10,60.99 491.30,61.28 491.50,61.28 491.70,61.02 491.90,60.56 492.10,60.01 492.30,59.45 492.50,58.95 492.70,58.51 492.90,58.05 493.10,57.60 493.30,57.18 493.50,56.80 493.70,56.50 493.90,56.23 494.10,55.98 494.30,55.75 494.50,55.55 494.70,55.36 494.90,55.18 495.10,55.01 495.30,54.86 495.50,54.71 495.70,54.57 495.90,54.44 496.10,54.32 496.30,54.22 496.50,54.13 496.70,54.06 496.90,54.00 497.10,53.94 497.30,53.88 497.50,53.82 497.70,53.75 497.90,53.66 498.10,53.56 498.30,53.40 498.50,53.18 498.70,52.90 498.90,52.59 499.10,52.26 499.30,51.94 499.50,51.63 499.70,51.36 499.90,51.14 500.10,50.92 500.30,50.70 500.50,50.49 500.70,50.29 500.90,50.11 501.10,49.94 501.30,49.80 501.50,49.69 501.70,49.61 501.90,49.55 502.10,49.50 502.30,49.45 502.50,49.41 502.70,49.38 502.90,49.34 503.10,49.29 503.30,49.24 503.50,49.18 503.70,49.10 503.90,49.02 504.10,48.94 504.30,48.84 504.50,48.75 504.70,48.65 504.90,48.55 505.10,48.46 505.30,48.37 505.50,48.29 505.70,48.22 505.90,48.15 506.10,48.08 506.30,48.00 506.50,47.93 506.70,47.85 506.90,47.79 507.10,47.72 507.30,47.67 507.50,47.62 507.70,47.59 507.90,47.56 508.10,47.56 508.30,47.57 508.50,47.61 508.70,47.67 508.90,47.75 509.10,47.84 509.30,47.94 509.50,48.05 509.70,48.16 509.90,48.27 510.10,48.38 510.30,48.50 510.50,48.65 510.70,48.83 510.90,49.07 511.10,49.47 511.30,50.44 511.50,51.31 511.70,51.32 511.90,50.54 512.10,49.69 512.30,49.38 512.50,49.22 512.70,49.09 512.90,48.98 513.10,48.91 513.30,48.88 513.50,48.88 513.70,48.92 513.90,48.98 514.10,49.07 514.30,49.17 514.50,49.27 514.70,49.36 514.90,49.43 515.10,49.47 515.30,49.47 515.50,49.45 515.70,49.42 515.90,49.37 516.10,49.32 516.30,49.28 516.50,49.24 516.70,49.21 516.90,49.20 517.10,49.21 517.30,49.23 517.50,49.28 517.70,49.33 517.90,49.40 518.10,49.47 518.30,49.55 518.50,49.63 518.70,49.72 518.90,49.80 519.10,49.88 519.30,49.96 519.50,50.03 519.70,50.08 519.90,50.13 520.10,50.17 520.30,50.21 520.50,50.25 520.70,50.29 520.90,50.32 521.10,50.36 521.30,50.39 521.50,50.41 521.70,50.43 521.90,50.45 522.10,50.46 522.30,50.46 522.50,50.45 522.70,50.44 522.90,50.42 523.10,50.40 523.30,50.37 523.50,50.34 523.70,50.30 523.90,50.27 524.10,50.23 524.30,50.19 524.50,50.15 524.70,50.10 524.90,50.05 525.10,49.98 525.30,49.90 525.50,49.82 525.70,49.73 525.90,49.63 526.10,49.54 526.30,49.45 526.50,49.36 526.70,49.29 526.90,49.22 527.10,49.16 527.30,49.11 527.50,49.05 527.70,49.00 527.90,48.95 528.10,48.91 528.30,48.87 528.50,48.83 528.70,48.79 528.90,48.76 529.10,48.73 529.30,48.71 529.50,48.68 529.70,48.66 529.90,48.63 530.10,48.61 530.30,48.59 530.50,48.57 530.70,48.56 530.90,48.54 531.10,48.53 531.30,48.53" fill="none" stroke="#4eaca4" stroke-width="0.92" stroke-linejoin="round"/>
<polyline points="277.30,26.00 277.50,26.00 277.70,26.00 277.90,26.00 278.10,26.00 278.30,26.00 278.50,26.00 278.70,26.00 278.90,26.00 279.10,26.00 279.30,26.00 279.50,26.00 279.70,26.00 279.90,26.00 280.10,26.00 280.30,26.00 280.50,26.00 280.70,26.01 280.90,26.01 281.10,26.01 281.30,26.01 281.50,26.01 281.70,26.01 281.90,26.01 282.10,26.01 282.30,26.01 282.50,26.01 282.70,26.01 282.90,26.01 283.10,26.01 283.30,26.01 283.50,26.01 283.70,26.01 283.90,26.01 284.10,26.01 284.30,26.01 284.50,26.01 284.70,26.01 284.90,26.01 285.10,26.01 285.30,26.01 285.50,26.01 285.70,26.01 285.90,26.01 286.10,26.01 286.30,26.01 286.50,26.01 286.70,26.01 286.90,26.01 287.10,26.01 287.30,26.01 287.50,26.01 287.70,26.01 287.90,26.02 288.10,26.02 288.30,26.02 288.50,26.02 288.70,26.02 288.90,26.02 289.10,26.02 289.30,26.02 289.50,26.02 289.70,26.02 289.90,26.02 290.10,26.02 290.30,26.02 290.50,26.02 290.70,26.02 290.90,26.02 291.10,26.02 291.30,26.02 291.50,26.03 291.70,26.03 291.90,26.03 292.10,26.03 292.30,26.03 292.50,26.04 292.70,26.04 292.90,26.04 293.10,26.04 293.30,26.05 293.50,26.05 293.70,26.05 293.90,26.06 294.10,26.06 294.30,26.06 294.50,26.07 294.70,26.07 294.90,26.07 295.10,26.08 295.30,26.08 295.50,26.09 295.70,26.09 295.90,26.10 296.10,26.10 296.30,26.11 296.50,26.11 296.70,26.12 296.90,26.12 297.10,26.13 297.30,26.13 297.50,26.14 297.70,26.15 297.90,26.15 298.10,26.16 298.30,26.16 298.50,26.17 298.70,26.18 298.90,26.18 299.10,26.19 299.30,26.20 299.50,26.20 299.70,26.21 299.90,26.22 300.10,26.23 300.30,26.23 300.50,26.24 300.70,26.25 300.90,26.26 301.10,26.27 301.30,26.28 301.50,26.29 301.70,26.31 301.90,26.33 302.10,26.35 302.30,26.37 302.50,26.39 302.70,26.41 302.90,26.44 303.10,26.47 303.30,26.49 303.50,26.52 303.70,26.55 303.90,26.58 304.10,26.61 304.30,26.65 304.50,26.68 304.70,26.71 304.90,26.75 305.10,26.78 305.30,26.82 305.50,26.85 305.70,26.89 305.90,26.92 306.10,26.96 306.30,26.99 306.50,27.03 306.70,27.06 306.90,27.10 307.10,27.14 307.30,27.18 307.50,27.22 307.70,27.26 307.90,27.30 308.10,27.35 308.30,27.39 308.50,27.44 308.70,27.49 308.90,27.54 309.10,27.58 309.30,27.63 309.50,27.68 309.70,27.74 309.90,27.79 310.10,27.84 310.30,27.89 310.50,27.95 310.70,28.00 310.90,28.06 311.10,28.11 311.30,28.17 311.50,28.23 311.70,28.28 311.90,28.34 312.10,28.40 312.30,28.45 312.50,28.51 312.70,28.57 312.90,28.63 313.10,28.69 313.30,28.75 313.50,28.81 313.70,28.87 313.90,28.94 314.10,29.00 314.30,29.07 314.50,29.14 314.70,29.22 314.90,29.30 315.10,29.38 315.30,29.46 315.50,29.54 315.70,29.63 315.90,29.73 316.10,29.83 316.30,29.93 316.50,30.05 316.70,30.17 316.90,30.31 317.10,30.45 317.30,30.59 317.50,30.75 317.70,30.91 317.90,31.08 318.10,31.26 318.30,31.44 318.50,31.63 318.70,31.83 318.90,32.04 319.10,32.27 319.30,32.53 319.50,32.80 319.70,33.09 319.90,33.38 320.10,33.68 320.30,33.99 320.50,34.30 320.70,34.60 320.90,34.90 321.10,35.23 321.30,35.57 321.50,35.93 321.70,36.29 321.90,36.63 322.10,36.95 322.30,37.24 322.50,37.49 322.70,37.70 322.90,37.90 323.10,38.10 323.30,38.28 323.50,38.44 323.70,38.55 323.90,38.61 324.10,38.62 324.30,38.61 324.50,38.59 324.70,38.56 324.90,38.52 325.10,38.48 325.30,38.43 325.50,38.37 325.70,38.26 325.90,38.10 326.10,37.90 326.30,37.68 326.50,37.44 326.70,37.21 326.90,36.98 327.10,36.72 327.30,36.45 327.50,36.16 327.70,35.86 327.90,35.56 328.10,35.26 328.30,34.97 328.50,34.70 328.70,34.42 328.90,34.13 329.10,33.84 329.30,33.55 329.50,33.26 329.70,32.98 329.90,32.70 330.10,32.44 330.30,32.18 330.50,31.94 330.70,31.72 330.90,31.51 331.10,31.33 331.30,31.16 331.50,31.00 331.70,30.85 331.90,30.70 332.10,30.56 332.30,30.42 332.50,30.28 332.70,30.15 332.90,30.03 333.10,29.91 333.30,29.79 333.50,29.67 333.70,29.56 333.90,29.46 334.10,29.35 334.30,29.25 334.50,29.15 334.70,29.06 334.90,28.96 335.10,28.87 335.30,28.78 335.50,28.69 335.70,28.60 335.90,28.50 336.10,28.41 336.30,28.31 336.50,28.21 336.70,28.12 336.90,28.02 337.10,27.93 337.30,27.85 337.50,27.76 337.70,27.69 337.90,27.61 338.10,27.55 338.30,27.49 338.50,27.44 338.70,27.40 338.90,27.36 339.10,27.34 339.30,27.33 339.50,27.33 339.70,27.33 339.90,27.33 340.10,27.33 340.30,27.33 340.50,27.33 340.70,27.33 340.90,27.33 341.10,27.33 341.30,27.33 341.50,27.33 341.70,27.33 341.90,27.33 342.10,27.33 342.30,27.33 342.50,27.33 342.70,27.33 342.90,27.33 343.10,27.33 343.30,27.33 343.50,27.33 343.70,27.35 343.90,27.38 344.10,27.43 344.30,27.49 344.50,27.57 344.70,27.66 344.90,27.76 345.10,27.86 345.30,27.97 345.50,28.09 345.70,28.20 345.90,28.31 346.10,28.41 346.30,28.52 346.50,28.62 346.70,28.73 346.90,28.86 347.10,29.00 347.30,29.15 347.50,29.33 347.70,29.53 347.90,29.80 348.10,30.17 348.30,30.62 348.50,31.14 348.70,31.71 348.90,32.30 349.10,32.92 349.30,33.54 349.50,34.14 349.70,34.76 349.90,35.42 350.10,36.12 350.30,36.88 350.50,37.70 350.70,38.63 350.90,39.70 351.10,40.91 351.30,42.20 351.50,43.55 351.70,45.00 351.90,46.59 352.10,48.26 352.30,49.93 352.50,51.55 352.70,53.12 352.90,54.94 353.10,56.79 353.30,58.34 353.50,59.26 353.70,59.35 353.90,59.00 354.10,58.42 354.30,57.74 354.50,57.06 354.70,56.33 354.90,55.47 355.10,54.61 355.30,53.85 355.50,53.23 355.70,52.67 355.90,52.15 356.10,51.63 356.30,51.09 356.50,50.49 356.70,49.81 356.90,49.06 357.10,48.29 357.30,47.52 357.50,46.81 357.70,46.15 357.90,45.42 358.10,44.72 358.30,44.20 358.50,44.00 358.70,44.32 358.90,45.02 359.10,45.72 359.30,46.04 359.50,45.70 359.70,44.85 359.90,43.76 360.10,42.69 360.30,41.67 360.50,40.53 360.70,39.23 360.90,37.71 361.10,36.26 361.30,34.99 361.50,33.79 361.70,32.72 361.90,31.81 362.10,30.96 362.30,30.23 362.50,29.70 362.70,29.33 362.90,29.03 363.10,28.79 363.30,28.60 363.50,28.44 363.70,28.30 363.90,28.17 364.10,28.06 364.30,27.99 364.50,27.95 364.70,27.93 364.90,27.92 365.10,27.90 365.30,27.89 365.50,27.88 365.70,27.87 365.90,27.86 366.10,27.85 366.30,27.84 366.50,27.84 366.70,27.83 366.90,27.83 367.10,27.82 367.30,27.82 367.50,27.82 367.70,27.81 367.90,27.81 368.10,27.80 368.30,27.80 368.50,27.80 368.70,27.80 368.90,27.79 369.10,27.79 369.30,27.79 369.50,27.79 369.70,27.78 369.90,27.78 370.10,27.78 370.30,27.78 370.50,27.78 370.70,27.78 370.90,27.78 371.10,27.77 371.30,27.77 371.50,27.77 371.70,27.77 371.90,27.77 372.10,27.77 372.30,27.77 372.50,27.77 372.70,27.76 372.90,27.76 373.10,27.76 373.30,27.76 373.50,27.76 373.70,27.75 373.90,27.75 374.10,27.75 374.30,27.75 374.50,27.74 374.70,27.74 374.90,27.73 375.10,27.73 375.30,27.72 375.50,27.72 375.70,27.71 375.90,27.70 376.10,27.69 376.30,27.69 376.50,27.68 376.70,27.67 376.90,27.66 377.10,27.65 377.30,27.64 377.50,27.63 377.70,27.61 377.90,27.60 378.10,27.59 378.30,27.58 378.50,27.57 378.70,27.56 378.90,27.54 379.10,27.53 379.30,27.52 379.50,27.51 379.70,27.50 379.90,27.49 380.10,27.47 380.30,27.46 380.50,27.45 380.70,27.44 380.90,27.43 381.10,27.42 381.30,27.41 381.50,27.40 381.70,27.39 381.90,27.38 382.10,27.37 382.30,27.37 382.50,27.36 382.70,27.35 382.90,27.34 383.10,27.34 383.30,27.33 383.50,27.32 383.70,27.31 383.90,27.31 384.10,27.30 384.30,27.29 384.50,27.28 384.70,27.28 384.90,27.27 385.10,27.26 385.30,27.26 385.50,27.25 385.70,27.24 385.90,27.23 386.10,27.23 386.30,27.22 386.50,27.21 386.70,27.20 386.90,27.20 387.10,27.19 387.30,27.18 387.50,27.17 387.70,27.17 387.90,27.16 388.10,27.15 388.30,27.14 388.50,27.13 388.70,27.12 388.90,27.11 389.10,27.11 389.30,27.10 389.50,27.09 389.70,27.08 389.90,27.07 390.10,27.06 390.30,27.05 390.50,27.04 390.70,27.03 390.90,27.02 391.10,27.01 391.30,27.00 391.50,26.98 391.70,26.97 391.90,26.96 392.10,26.95 392.30,26.94 392.50,26.93 392.70,26.92 392.90,26.91 393.10,26.89 393.30,26.88 393.50,26.87 393.70,26.86 393.90,26.84 394.10,26.83 394.30,26.82 394.50,26.81 394.70,26.79 394.90,26.78 395.10,26.77 395.30,26.75 395.50,26.74 395.70,26.73 395.90,26.71 396.10,26.70 396.30,26.69 396.50,26.67 396.70,26.66 396.90,26.64 397.10,26.62 397.30,26.61 397.50,26.59 397.70,26.57 397.90,26.55 398.10,26.53 398.30,26.51 398.50,26.49 398.70,26.47 398.90,26.45 399.10,26.43 399.30,26.40 399.50,26.38 399.70,26.36 399.90,26.34 400.10,26.32 400.30,26.30 400.50,26.28 400.70,26.26 400.90,26.24 401.10,26.22 401.30,26.20 401.50,26.18 401.70,26.16 401.90,26.14 402.10,26.13 402.30,26.11 402.50,26.10 402.70,26.08 402.90,26.07 403.10,26.06 403.30,26.05 403.50,26.04 403.70,26.03 403.90,26.02 404.10,26.01 404.30,26.00 404.50,25.99 404.70,25.98 404.90,25.97 405.10,25.97 405.30,25.96 405.50,25.95 405.70,25.94 405.90,25.93 406.10,25.93 406.30,25.92 406.50,25.91 406.70,25.90 406.90,25.90 407.10,25.89 407.30,25.88 407.50,25.88 407.70,25.87 407.90,25.87 408.10,25.86 408.30,25.86 408.50,25.85 408.70,25.85 408.90,25.84 409.10,25.84 409.30,25.83 409.50,25.83 409.70,25.83 409.90,25.83 410.10,25.82 410.30,25.82 410.50,25.82 410.70,25.82 410.90,25.82 411.10,25.82 411.30,25.82 411.50,25.82 411.70,25.82 411.90,25.82 412.10,25.82 412.30,25.82 412.50,25.82 412.70,25.82 412.90,25.83 413.10,25.83 413.30,25.83 413.50,25.83 413.70,25.83 413.90,25.83 414.10,25.83 414.30,25.83 414.50,25.83 414.70,25.83 414.90,25.83 415.10,25.83 415.30,25.83 415.50,25.83 415.70,25.83 415.90,25.83 416.10,25.83 416.30,25.83 416.50,25.83 416.70,25.83 416.90,25.83 417.10,25.83 417.30,25.83 417.50,25.83 417.70,25.83 417.90,25.83 418.10,25.83 418.30,25.83 418.50,25.83 418.70,25.83 418.90,25.83 419.10,25.83 419.30,25.83 419.50,25.83 419.70,25.83 419.90,25.83 420.10,25.84 420.30,25.84 420.50,25.84 420.70,25.84 420.90,25.84 421.10,25.84 421.30,25.84 421.50,25.84 421.70,25.84 421.90,25.84 422.10,25.84 422.30,25.84 422.50,25.84 422.70,25.84 422.90,25.84 423.10,25.84 423.30,25.84 423.50,25.84 423.70,25.84 423.90,25.84 424.10,25.84 424.30,25.84 424.50,25.84 424.70,25.84 424.90,25.84 425.10,25.84 425.30,25.84 425.50,25.84 425.70,25.85 425.90,25.85 426.10,25.85 426.30,25.85 426.50,25.85 426.70,25.85 426.90,25.85 427.10,25.85 427.30,25.85 427.50,25.85 427.70,25.85 427.90,25.85 428.10,25.85 428.30,25.85 428.50,25.85 428.70,25.85 428.90,25.85 429.10,25.85 429.30,25.85 429.50,25.85 429.70,25.85 429.90,25.85 430.10,25.86 430.30,25.86 430.50,25.87 430.70,25.88 430.90,25.90 431.10,25.92 431.30,25.94 431.50,25.96 431.70,25.98 431.90,26.01 432.10,26.04 432.30,26.07 432.50,26.10 432.70,26.14 432.90,26.18 433.10,26.21 433.30,26.25 433.50,26.29 433.70,26.33 433.90,26.38 434.10,26.42 434.30,26.47 434.50,26.52 434.70,26.59 434.90,26.66 435.10,26.75 435.30,26.85 435.50,26.95 435.70,27.07 435.90,27.19 436.10,27.33 436.30,27.47 436.50,27.64 436.70,27.86 436.90,28.11 437.10,28.40 437.30,28.72 437.50,29.08 437.70,29.50 437.90,30.01 438.10,30.61 438.30,31.28 438.50,32.01 438.70,32.82 438.90,33.79 439.10,34.96 439.30,36.50 439.50,38.81 439.70,41.55 439.90,44.36 440.10,47.38 440.30,50.79 440.50,54.86 440.70,59.60 440.90,64.21 441.10,68.76 441.30,73.39 441.50,79.14 441.70,82.23 441.90,81.30 442.10,79.96 442.30,78.09 442.50,76.43 442.70,74.80 442.90,73.21 443.10,71.62 443.30,70.07 443.50,68.61 443.70,67.19 443.90,65.80 444.10,64.47 444.30,63.18 444.50,61.94 444.70,60.02 444.90,58.22 445.10,56.43 445.30,54.61 445.50,52.76 445.70,50.77 445.90,48.54 446.10,46.16 446.30,43.90 446.50,41.78 446.70,39.75 446.90,37.92 447.10,36.39 447.30,35.04 447.50,33.81 447.70,32.64 447.90,31.68 448.10,30.95 448.30,30.31 448.50,29.74 448.70,29.26 448.90,28.86 449.10,28.58 449.30,28.40 449.50,28.25 449.70,28.10 449.90,27.97 450.10,27.86 450.30,27.77 450.50,27.70 450.70,27.66 450.90,27.64 451.10,27.67 451.30,27.75 451.50,27.86 451.70,28.01 451.90,28.17 452.10,28.35 452.30,28.52 452.50,28.71 452.70,28.93 452.90,29.20 453.10,29.50 453.30,29.84 453.50,30.24 453.70,30.72 453.90,31.30 454.10,31.97 454.30,32.76 454.50,33.78 454.70,35.11 454.90,36.68 455.10,38.42 455.30,40.43 455.50,43.41 455.70,46.80 455.90,49.81 456.10,51.69 456.30,51.86 456.50,51.11 456.70,49.84 456.90,48.28 457.10,46.66 457.30,45.10 457.50,43.18 457.70,41.11 457.90,39.23 458.10,37.88 458.30,36.92 458.50,36.01 458.70,35.19 458.90,34.52 459.10,34.02 459.30,33.75 459.50,33.82 459.70,34.55 459.90,35.76 460.10,37.20 460.30,38.61 460.50,40.36 460.70,42.56 460.90,44.62 461.10,45.94 461.30,46.04 461.50,45.38 461.70,44.34 461.90,43.21 462.10,42.26 462.30,41.49 462.50,40.73 462.70,40.03 462.90,39.44 463.10,38.98 463.30,38.55 463.50,38.13 463.70,37.73 463.90,37.38 464.10,37.08 464.30,36.85 464.50,36.70 464.70,36.65 464.90,36.72 465.10,36.90 465.30,37.16 465.50,37.45 465.70,37.74 465.90,38.06 466.10,38.43 466.30,38.82 466.50,39.20 466.70,39.64 466.90,40.12 467.10,40.51 467.30,40.67 467.50,40.61 467.70,40.46 467.90,40.29 468.10,40.14 468.30,40.08 468.50,40.38 468.70,41.12 468.90,42.03 469.10,42.89 469.30,43.44 469.50,43.50 469.70,43.38 469.90,43.19 470.10,42.97 470.30,42.78 470.50,42.66 470.70,42.66 470.90,42.82 471.10,43.09 471.30,43.44 471.50,43.83 471.70,44.22 471.90,44.58 472.10,44.98 472.30,45.42 472.50,45.87 472.70,46.32 472.90,46.75 473.10,47.14 473.30,47.49 473.50,47.82 473.70,48.15 473.90,48.51 474.10,48.92 474.30,49.40 474.50,50.00 474.70,50.67 474.90,51.40 475.10,52.17 475.30,53.03 475.50,53.96 475.70,54.87 475.90,55.72 476.10,56.45 476.30,57.10 476.50,57.72 476.70,58.37 476.90,59.12 477.10,60.03 477.30,61.61 477.50,63.50 477.70,64.41 477.90,63.85 478.10,62.59 478.30,61.27 478.50,59.96 478.70,58.57 478.90,57.48 479.10,56.65 479.30,55.86 479.50,55.15 479.70,54.57 479.90,54.19 480.10,54.05 480.30,54.10 480.50,54.25 480.70,54.47 480.90,54.74 481.10,55.05 481.30,55.36 481.50,55.74 481.70,56.23 481.90,56.80 482.10,57.41 482.30,58.05 482.50,58.73 482.70,59.65 482.90,60.36 483.10,60.38 483.30,59.68 483.50,58.59 483.70,57.27 483.90,55.23 484.10,52.89 484.30,50.73 484.50,48.56 484.70,46.50 484.90,44.71 485.10,42.95 485.30,41.44 485.50,40.48 485.70,39.92 485.90,39.45 486.10,39.14 486.30,39.02 486.50,39.37 486.70,40.20 486.90,41.15 487.10,42.02 487.30,43.07 487.50,43.86 487.70,43.90 487.90,43.31 488.10,42.41 488.30,41.50 488.50,40.85 488.70,40.43 488.90,40.04 489.10,39.71 489.30,39.48 489.50,39.39 489.70,39.58 489.90,40.05 490.10,40.67 490.30,41.30 490.50,41.87 490.70,42.56 490.90,43.30 491.10,43.92 491.30,44.31 491.50,44.31 491.70,43.95 491.90,43.35 492.10,42.62 492.30,41.87 492.50,41.22 492.70,40.64 492.90,40.03 493.10,39.43 493.30,38.86 493.50,38.37 493.70,37.97 493.90,37.61 494.10,37.28 494.30,36.98 494.50,36.71 494.70,36.45 494.90,36.22 495.10,36.00 495.30,35.79 495.50,35.59 495.70,35.41 495.90,35.24 496.10,35.09 496.30,34.95 496.50,34.84 496.70,34.74 496.90,34.66 497.10,34.58 497.30,34.51 497.50,34.42 497.70,34.33 497.90,34.22 498.10,34.08 498.30,33.87 498.50,33.57 498.70,33.21 498.90,32.79 499.10,32.36 499.30,31.93 499.50,31.52 499.70,31.17 499.90,30.87 500.10,30.58 500.30,30.30 500.50,30.02 500.70,29.75 500.90,29.51 501.10,29.29 501.30,29.10 501.50,28.96 501.70,28.85 501.90,28.77 502.10,28.70 502.30,28.64 502.50,28.59 502.70,28.54 502.90,28.49 503.10,28.43 503.30,28.36 503.50,28.28 503.70,28.18 503.90,28.08 504.10,27.96 504.30,27.84 504.50,27.71 504.70,27.58 504.90,27.45 505.10,27.33 505.30,27.21 505.50,27.11 505.70,27.01 505.90,26.92 506.10,26.82 506.30,26.73 506.50,26.63 506.70,26.53 506.90,26.44 507.10,26.36 507.30,26.29 507.50,26.23 507.70,26.18 507.90,26.15 508.10,26.14 508.30,26.16 508.50,26.21 508.70,26.29 508.90,26.40 509.10,26.52 509.30,26.66 509.50,26.80 509.70,26.95 509.90,27.09 510.10,27.24 510.30,27.40 510.50,27.60 510.70,27.84 510.90,28.15 511.10,28.69 511.30,29.98 511.50,31.13 511.70,31.15 511.90,30.11 512.10,28.98 512.30,28.58 512.50,28.36 512.70,28.19 512.90,28.05 513.10,27.96 513.30,27.91 513.50,27.91 513.70,27.96 513.90,28.05 514.10,28.17 514.30,28.30 514.50,28.44 514.70,28.56 514.90,28.65 515.10,28.70 515.30,28.70 515.50,28.68 515.70,28.63 515.90,28.57 516.10,28.51 516.30,28.45 516.50,28.40 516.70,28.36 516.90,28.35 517.10,28.36 517.30,28.39 517.50,28.45 517.70,28.52 517.90,28.61 518.10,28.71 518.30,28.82 518.50,28.93 518.70,29.04 518.90,29.15 519.10,29.26 519.30,29.36 519.50,29.45 519.70,29.53 519.90,29.59 520.10,29.64 520.30,29.70 520.50,29.75 520.70,29.80 520.90,29.85 521.10,29.90 521.30,29.94 521.50,29.97 521.70,30.00 521.90,30.02 522.10,30.03 522.30,30.03 522.50,30.02 522.70,30.01 522.90,29.98 523.10,29.95 523.30,29.92 523.50,29.88 523.70,29.83 523.90,29.78 524.10,29.73 524.30,29.68 524.50,29.63 524.70,29.57 524.90,29.50 525.10,29.41 525.30,29.31 525.50,29.19 525.70,29.07 525.90,28.95 526.10,28.83 526.30,28.71 526.50,28.60 526.70,28.49 526.90,28.40 527.10,28.33 527.30,28.26 527.50,28.19 527.70,28.12 527.90,28.06 528.10,28.00 528.30,27.94 528.50,27.89 528.70,27.84 528.90,27.80 529.10,27.77 529.30,27.73 529.50,27.70 529.70,27.67 529.90,27.63 530.10,27.61 530.30,27.58 530.50,27.56 530.70,27.54 530.90,27.52 531.10,27.50 531.30,27.50" fill="none" stroke="#ff70ff" stroke-width="0.92" stroke-linejoin="round"/>
<rect x="277.4" y="10.0" width="253.9" height="188" fill="none" stroke="#444" stroke-width="1.25"/>
<line x1="277.30" y1="198" x2="277.30" y2="201.60" stroke="#333" stroke-width="0.9"/>
<line x1="295.44" y1="198" x2="295.44" y2="199.90" stroke="#333" stroke-width="0.9"/>
<line x1="313.59" y1="198" x2="313.59" y2="201.60" stroke="#333" stroke-width="0.9"/>
<line x1="331.74" y1="198" x2="331.74" y2="199.90" stroke="#333" stroke-width="0.9"/>
<line x1="349.88" y1="198" x2="349.88" y2="201.60" stroke="#333" stroke-width="0.9"/>
<line x1="368.02" y1="198" x2="368.02" y2="199.90" stroke="#333" stroke-width="0.9"/>
<line x1="386.17" y1="198" x2="386.17" y2="201.60" stroke="#333" stroke-width="0.9"/>
<line x1="404.31" y1="198" x2="404.31" y2="199.90" stroke="#333" stroke-width="0.9"/>
<line x1="422.46" y1="198" x2="422.46" y2="201.60" stroke="#333" stroke-width="0.9"/>
<line x1="440.61" y1="198" x2="440.61" y2="199.90" stroke="#333" stroke-width="0.9"/>
<line x1="458.75" y1="198" x2="458.75" y2="201.60" stroke="#333" stroke-width="0.9"/>
<line x1="476.89" y1="198" x2="476.89" y2="199.90" stroke="#333" stroke-width="0.9"/>
<line x1="495.04" y1="198" x2="495.04" y2="201.60" stroke="#333" stroke-width="0.9"/>
<line x1="513.18" y1="198" x2="513.18" y2="199.90" stroke="#333" stroke-width="0.9"/>
<line x1="531.33" y1="198" x2="531.33" y2="201.60" stroke="#333" stroke-width="0.9"/>
<text x="277.30" y="210.3" class="tb">4000</text>
<text x="313.59" y="210.3" class="tb">3500</text>
<text x="349.88" y="210.3" class="tb">3000</text>
<text x="386.17" y="210.3" class="tb">2500</text>
<text x="422.46" y="210.3" class="tb">2000</text>
<text x="458.75" y="210.3" class="tb">1500</text>
<text x="495.04" y="210.3" class="tb">1000</text>
<text x="531.33" y="210.3" class="tb">500</text>
<text x="404.3" y="227" class="wb">Wavenumbers (cm<tspan class="sup" dx="0.3" dy="-4">-1</tspan><tspan dx="1.2" dy="4">)</tspan></text>
<text x="404.9" y="243.8" class="cap">(<tspan font-weight="bold" fill="#151515">b</tspan>)</text>
<text x="278.7" y="21.6" class="lb">CO<tspan class="sb" dx="0.5" dy="2.9">0%</tspan><tspan dx="0.3" dy="-2.9">-WPU</tspan></text>
<text x="278.7" y="43.1" class="lb">CO<tspan class="sb" dx="0.5" dy="2.9">1.09%</tspan><tspan dx="0.3" dy="-2.9">-WPU</tspan></text>
<text x="278.7" y="64.9" class="lb">CO<tspan class="sb" dx="0.5" dy="2.9">3.63%</tspan><tspan dx="0.3" dy="-2.9">-WPU</tspan></text>
<text x="278.7" y="85.8" class="lb">CO<tspan class="sb" dx="0.5" dy="2.9">7.40%</tspan><tspan dx="0.3" dy="-2.9">-WPU</tspan></text>
<text x="278.7" y="106.9" class="lb">CO<tspan class="sb" dx="0.5" dy="2.9">9.90%</tspan><tspan dx="0.3" dy="-2.9">-WPU</tspan></text>
</svg>
</body></html>
